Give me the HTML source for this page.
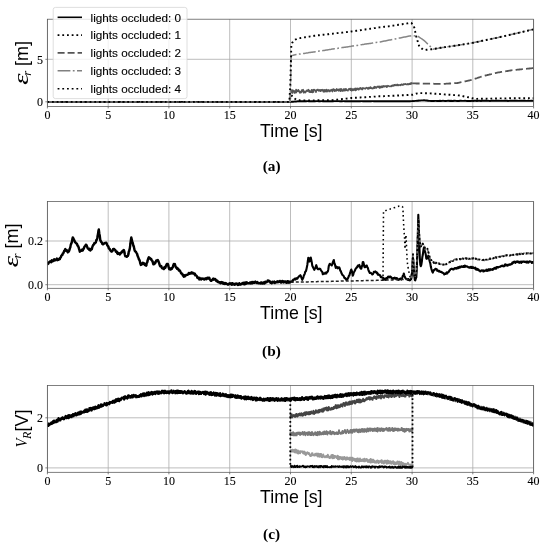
<!DOCTYPE html>
<html><head><meta charset="utf-8"><title>Figure</title>
<style>
html,body{margin:0;padding:0;background:#fff;}
body{width:548px;height:550px;overflow:hidden;}
svg{display:block;}
.g{stroke:#aaa;stroke-width:0.78;}
.sp{fill:none;stroke:#555;stroke-width:0.75;}
.tk{stroke:#555;stroke-width:0.75;}
.tl{font-family:"Liberation Serif",serif;font-size:12px;fill:#000;stroke:#000;stroke-width:0.1;}
.xl{font-family:"Liberation Sans",sans-serif;font-size:17.8px;fill:#000;}
.yl{font-family:"Liberation Sans",sans-serif;font-size:18px;fill:#000;}
.eps{font-family:"Liberation Serif",serif;font-style:italic;font-size:20px;}
.sub{font-family:"Liberation Serif",serif;font-style:italic;font-size:12.6px;}
.vv{font-family:"Liberation Serif",serif;font-style:italic;font-size:16.2px;}
.vr{font-family:"Liberation Serif",serif;font-style:italic;font-size:12px;}
.lg{font-family:"Liberation Sans",sans-serif;font-size:11.7px;fill:#000;stroke:#000;stroke-width:0.12;}
.cap{font-family:"Liberation Serif",serif;font-weight:bold;font-size:15.3px;fill:#000;}
polyline{stroke-linejoin:round;}
</style></head><body>
<svg width="548" height="550" viewBox="0 0 548 550">
<rect width="548" height="550" fill="#fff"/>
<g id="pa">
<line x1="47.4" y1="19.2" x2="47.4" y2="106.4" class="g"/>
<line x1="108.2" y1="19.2" x2="108.2" y2="106.4" class="g"/>
<line x1="168.9" y1="19.2" x2="168.9" y2="106.4" class="g"/>
<line x1="229.7" y1="19.2" x2="229.7" y2="106.4" class="g"/>
<line x1="290.5" y1="19.2" x2="290.5" y2="106.4" class="g"/>
<line x1="351.3" y1="19.2" x2="351.3" y2="106.4" class="g"/>
<line x1="412.1" y1="19.2" x2="412.1" y2="106.4" class="g"/>
<line x1="472.8" y1="19.2" x2="472.8" y2="106.4" class="g"/>
<line x1="533.6" y1="19.2" x2="533.6" y2="106.4" class="g"/>
<line x1="47.4" y1="59.3" x2="533.6" y2="59.3" class="g"/>
<line x1="47.4" y1="101.8" x2="533.6" y2="101.8" class="g"/>
<clipPath id="ca"><rect x="47.4" y="19.2" width="486.2" height="87.2"/></clipPath>
<g clip-path="url(#ca)">
<polyline fill="none" stroke="#000" stroke-width="1.6"  points="47.3,101.8 48.3,102.0 49.3,101.9 50.3,101.9 51.3,102.0 52.3,101.9 53.3,101.9 54.3,101.8 55.3,101.9 56.3,101.9 57.3,101.9 58.3,102.0 59.3,101.9 60.3,101.8 61.3,101.9 62.3,102.0 63.3,101.8 64.3,101.9 65.3,102.0 66.3,101.8 67.3,101.9 68.3,102.0 69.3,101.8 70.3,101.9 71.3,102.0 72.3,101.8 73.3,101.9 74.3,102.0 75.3,101.9 76.3,101.9 77.3,101.8 78.3,101.9 79.3,101.9 80.3,101.9 81.3,101.9 82.3,102.0 83.3,102.0 84.3,101.9 85.3,101.9 86.3,101.9 87.3,101.9 88.3,101.9 89.3,101.9 90.3,101.9 91.3,101.9 92.3,101.9 93.3,101.9 94.3,102.0 95.3,101.8 96.3,101.9 97.3,101.9 98.3,101.9 99.3,101.9 100.3,101.9 101.3,101.9 102.3,101.8 103.3,101.8 104.3,101.9 105.3,101.9 106.3,101.9 107.3,102.0 108.3,101.9 109.3,101.8 110.3,101.9 111.3,101.9 112.3,101.8 113.3,102.0 114.3,102.0 115.3,102.0 116.3,101.9 117.3,102.0 118.3,101.8 119.3,101.9 120.3,101.9 121.3,101.9 122.3,101.9 123.3,101.8 124.3,101.9 125.3,101.9 126.3,101.9 127.3,101.8 128.3,101.9 129.3,101.9 130.3,102.0 131.3,102.0 132.3,101.9 133.3,101.9 134.3,102.0 135.3,102.0 136.3,101.9 137.3,102.0 138.3,102.0 139.3,101.8 140.3,102.0 141.3,101.9 142.3,101.9 143.3,102.0 144.3,101.9 145.3,101.8 146.3,101.9 147.3,101.8 148.3,101.9 149.3,102.0 150.3,101.9 151.3,101.9 152.3,101.9 153.3,102.0 154.3,102.0 155.3,101.8 156.3,101.9 157.3,101.9 158.3,101.8 159.3,101.9 160.3,101.9 161.3,102.0 162.3,102.0 163.3,101.8 164.3,101.8 165.3,101.9 166.3,101.8 167.3,101.8 168.3,101.9 169.3,101.8 170.3,102.0 171.3,102.0 172.3,101.8 173.3,101.9 174.3,102.0 175.3,102.0 176.3,101.9 177.3,101.8 178.3,102.0 179.3,102.0 180.3,101.8 181.3,101.9 182.3,101.9 183.3,102.0 184.3,101.8 185.3,101.9 186.3,102.0 187.3,101.9 188.3,101.8 189.3,101.8 190.3,101.9 191.3,102.0 192.3,101.8 193.3,101.8 194.3,101.9 195.3,101.8 196.3,101.8 197.3,101.8 198.3,101.9 199.3,101.9 200.3,101.9 201.3,101.8 202.3,101.9 203.3,101.9 204.3,102.0 205.3,102.0 206.3,101.8 207.3,101.8 208.3,102.0 209.3,102.0 210.3,101.9 211.3,102.0 212.3,102.0 213.3,101.9 214.3,102.0 215.3,101.8 216.3,101.9 217.3,101.9 218.3,101.8 219.3,102.0 220.3,101.8 221.3,101.9 222.3,101.8 223.3,101.9 224.3,101.9 225.3,101.8 226.3,101.9 227.3,101.9 228.3,101.9 229.3,101.9 230.3,101.8 231.3,101.8 232.3,101.9 233.3,101.9 234.3,101.8 235.3,102.0 236.3,102.0 237.3,101.8 238.3,101.9 239.3,101.8 240.3,101.9 241.3,101.9 242.3,101.9 243.3,102.0 244.3,101.9 245.3,101.9 246.3,101.9 247.3,102.0 248.3,101.8 249.3,101.9 250.3,102.0 251.3,101.9 252.3,101.9 253.3,101.9 254.3,101.9 255.3,101.9 256.3,101.8 257.3,102.0 258.3,102.0 259.3,101.9 260.3,101.9 261.3,101.8 262.3,102.0 263.3,102.0 264.3,101.9 265.3,102.0 266.3,101.8 267.3,101.9 268.3,101.8 269.3,101.9 270.3,101.8 271.3,102.0 272.3,101.9 273.3,101.9 274.3,101.8 275.3,101.9 276.3,102.0 277.3,101.9 278.3,101.8 279.3,102.0 280.3,101.8 281.3,102.0 282.3,101.9 283.3,101.9 284.3,101.9 285.3,101.9 286.3,101.9 287.3,102.0 288.3,101.9 289.3,102.0 290.0,102.0"/>
<polyline fill="none" stroke="#000" stroke-width="1.9"  points="290.0,101.8 291.0,101.9 292.0,101.7 293.0,101.8 294.0,101.6 295.0,101.5 296.0,101.6 297.0,101.3 298.0,101.4 299.0,101.2 300.0,101.1 301.0,101.3 302.0,101.2 303.0,101.3 304.0,101.2 305.0,101.2 306.0,101.3 307.0,101.1 308.0,101.1 309.0,101.3 310.0,101.2 311.0,101.2 312.0,101.3 313.0,101.1 314.0,101.3 315.0,101.2 316.0,101.1 317.0,101.1 318.0,101.1 319.0,101.3 320.0,101.2 321.0,101.1 322.0,101.1 323.0,101.3 324.0,101.1 325.0,101.3 326.0,101.1 327.0,101.3 328.0,101.2 329.0,101.1 330.0,101.3 331.0,101.2 332.0,101.3 333.0,101.2 334.0,101.1 335.0,101.1 336.0,101.1 337.0,101.1 338.0,101.1 339.0,101.1 340.0,101.3 341.0,101.1 342.0,101.2 343.0,101.1 344.0,101.1 345.0,101.3 346.0,101.3 347.0,101.2 348.0,101.1 349.0,101.3 350.0,101.1 351.0,101.2 352.0,101.2 353.0,101.3 354.0,101.3 355.0,101.2 356.0,101.2 357.0,101.3 358.0,101.3 359.0,101.3 360.0,101.3 361.0,101.1 362.0,101.1 363.0,101.2 364.0,101.2 365.0,101.3 366.0,101.1 367.0,101.2 368.0,101.2 369.0,101.3 370.0,101.1 371.0,101.2 372.0,101.1 373.0,101.1 374.0,101.3 375.0,101.1 376.0,101.3 377.0,101.2 378.0,101.1 379.0,101.3 380.0,101.1 381.0,101.3 382.0,101.1 383.0,101.3 384.0,101.1 385.0,101.2 386.0,101.3 387.0,101.2 388.0,101.2 389.0,101.3 390.0,101.1 391.0,101.3 392.0,101.3 393.0,101.1 394.0,101.2 395.0,101.1 396.0,101.3 397.0,101.1 398.0,101.2 399.0,101.3 400.0,101.3 401.0,101.1 402.0,101.3 403.0,101.1 404.0,101.3 405.0,101.2 406.0,101.1 407.0,101.3 408.0,101.3 409.0,101.3 410.0,101.3 411.0,101.1 412.0,101.1 413.0,101.0 414.0,101.1 415.0,100.9 416.0,100.9 417.0,100.8 418.0,100.7 419.0,100.5 420.0,100.6 421.0,100.4 422.0,100.4 423.0,100.4 424.0,100.1 425.0,100.4 426.0,100.5 427.0,100.5 428.0,100.7 429.0,100.9 430.0,100.9 431.0,101.0 432.0,101.0 433.0,100.9 434.0,101.0 435.0,100.9 436.0,100.9 437.0,101.0 438.0,100.9 439.0,101.0 440.0,100.8 441.0,101.0 442.0,100.9 443.0,100.8 444.0,100.9 445.0,101.0 446.0,101.0 447.0,100.9 448.0,100.8 449.0,100.8 450.0,101.0 451.0,100.8 452.0,101.0 453.0,101.0 454.0,100.8 455.0,100.8 456.0,100.9 457.0,101.0 458.0,101.0 459.0,101.0 460.0,100.8 461.0,100.8 462.0,100.9 463.0,100.9 464.0,100.9 465.0,100.7 466.0,100.9 467.0,101.0 468.0,101.0 469.0,101.0 470.0,101.0 471.0,101.0 472.0,100.7 473.0,101.0 474.0,100.8 475.0,100.8 476.0,100.8 477.0,101.0 478.0,100.9 479.0,100.8 480.0,100.8 481.0,101.0 482.0,100.9 483.0,100.7 484.0,100.8 485.0,100.8 486.0,100.8 487.0,100.9 488.0,100.8 489.0,100.9 490.0,101.0 491.0,100.9 492.0,100.7 493.0,100.8 494.0,100.8 495.0,100.9 496.0,100.8 497.0,100.8 498.0,100.8 499.0,100.7 500.0,100.9 501.0,100.9 502.0,100.8 503.0,100.9 504.0,100.8 505.0,100.8 506.0,100.8 507.0,100.8 508.0,101.0 509.0,100.9 510.0,100.9 511.0,100.7 512.0,100.8 513.0,100.8 514.0,100.7 515.0,100.8 516.0,100.7 517.0,100.7 518.0,100.9 519.0,100.9 520.0,100.9 521.0,100.7 522.0,100.7 523.0,100.7 524.0,100.7 525.0,100.7 526.0,100.9 527.0,100.9 528.0,100.7 529.0,100.7 530.0,100.9 531.0,100.8 532.0,100.8 533.0,100.8 534.0,100.7 534.1,100.8"/>
<polyline fill="none" stroke="#000" stroke-width="1.9" stroke-dasharray="1.8 2.9"  points="47.3,101.9 48.3,101.9 49.3,101.9 50.3,101.9 51.3,101.9 52.3,101.9 53.3,101.9 54.3,101.9 55.3,101.9 56.3,101.9 57.3,101.9 58.3,101.9 59.3,101.9 60.3,101.9 61.3,101.9 62.3,101.9 63.3,101.9 64.3,101.9 65.3,101.9 66.3,101.9 67.3,101.9 68.3,101.9 69.3,101.9 70.3,101.9 71.3,101.9 72.3,101.9 73.3,101.9 74.3,101.9 75.3,101.9 76.3,101.9 77.3,101.9 78.3,101.9 79.3,101.9 80.3,101.9 81.3,101.9 82.3,101.9 83.3,101.9 84.3,101.9 85.3,101.9 86.3,101.9 87.3,101.9 88.3,101.9 89.3,101.9 90.3,101.9 91.3,101.9 92.3,101.9 93.3,101.9 94.3,101.9 95.3,101.9 96.3,101.9 97.3,101.9 98.3,101.9 99.3,101.9 100.3,101.9 101.3,101.9 102.3,101.9 103.3,101.9 104.3,101.9 105.3,101.9 106.3,101.9 107.3,101.9 108.3,101.9 109.3,101.9 110.3,101.9 111.3,101.9 112.3,101.9 113.3,101.9 114.3,101.9 115.3,101.9 116.3,101.9 117.3,101.9 118.3,101.9 119.3,101.9 120.3,101.9 121.3,101.9 122.3,101.9 123.3,101.9 124.3,101.9 125.3,101.9 126.3,101.9 127.3,101.9 128.3,101.9 129.3,101.9 130.3,101.9 131.3,101.9 132.3,101.9 133.3,101.9 134.3,101.9 135.3,101.9 136.3,101.9 137.3,101.9 138.3,101.9 139.3,101.9 140.3,101.9 141.3,101.9 142.3,101.9 143.3,101.9 144.3,101.9 145.3,101.9 146.3,101.9 147.3,101.9 148.3,101.9 149.3,101.9 150.3,101.9 151.3,101.9 152.3,101.9 153.3,101.9 154.3,101.9 155.3,101.9 156.3,101.9 157.3,101.9 158.3,101.9 159.3,101.9 160.3,101.9 161.3,101.9 162.3,101.9 163.3,101.9 164.3,101.9 165.3,101.9 166.3,101.9 167.3,101.9 168.3,101.9 169.3,101.9 170.3,101.9 171.3,101.9 172.3,101.9 173.3,101.9 174.3,101.9 175.3,101.9 176.3,101.9 177.3,101.9 178.3,101.9 179.3,101.9 180.3,101.9 181.3,101.9 182.3,101.9 183.3,101.9 184.3,101.9 185.3,101.9 186.3,101.9 187.3,101.9 188.3,101.9 189.3,101.9 190.3,101.9 191.3,101.9 192.3,101.9 193.3,101.9 194.3,101.9 195.3,101.9 196.3,101.9 197.3,101.9 198.3,101.9 199.3,101.9 200.3,101.9 201.3,101.9 202.3,101.9 203.3,101.9 204.3,101.9 205.3,101.9 206.3,101.9 207.3,101.9 208.3,101.9 209.3,101.9 210.3,101.9 211.3,101.9 212.3,101.9 213.3,101.9 214.3,101.9 215.3,101.9 216.3,101.9 217.3,101.9 218.3,101.9 219.3,101.9 220.3,101.9 221.3,101.9 222.3,101.9 223.3,101.9 224.3,101.9 225.3,101.9 226.3,101.9 227.3,101.9 228.3,101.9 229.3,101.9 230.3,101.9 231.3,101.9 232.3,101.9 233.3,101.9 234.3,101.9 235.3,101.9 236.3,101.9 237.3,101.9 238.3,101.9 239.3,101.9 240.3,101.9 241.3,101.9 242.3,101.9 243.3,101.9 244.3,101.9 245.3,101.9 246.3,101.9 247.3,101.9 248.3,101.9 249.3,101.9 250.3,101.9 251.3,101.9 252.3,101.9 253.3,101.9 254.3,101.9 255.3,101.9 256.3,101.9 257.3,101.9 258.3,101.9 259.3,101.9 260.3,101.9 261.3,101.9 262.3,101.9 263.3,101.9 264.3,101.9 265.3,101.9 266.3,101.9 267.3,101.9 268.3,101.9 269.3,101.9 270.3,101.9 271.3,101.9 272.3,101.9 273.3,101.9 274.3,101.9 275.3,101.9 276.3,101.9 277.3,101.9 278.3,101.9 279.3,101.9 280.3,101.9 281.3,101.9 282.3,101.9 283.3,101.9 284.3,101.9 285.3,101.9 286.3,101.9 287.3,101.9 288.3,101.9 289.3,101.9 290.3,97.9 291.3,95.1 292.3,96.3 293.3,97.2 294.3,98.1 295.3,99.0 296.3,99.8 297.3,100.1 298.3,100.2 299.3,100.3 300.3,100.4 301.3,100.4 302.3,100.4 303.3,100.4 304.3,100.4 305.3,100.4 306.3,100.4 307.3,100.4 308.3,100.4 309.3,100.4 310.3,100.4 311.3,100.4 312.3,100.4 313.3,100.4 314.3,100.4 315.3,100.3 316.3,100.3 317.3,100.3 318.3,100.3 319.3,100.3 320.3,100.3 321.3,100.3 322.3,100.3 323.3,100.3 324.3,100.3 325.3,100.3 326.3,100.3 327.3,100.3 328.3,100.3 329.3,100.3 330.3,100.3 331.3,100.2 332.3,100.1 333.3,100.0 334.3,99.9 335.3,99.8 336.3,99.7 337.3,99.6 338.3,99.5 339.3,99.4 340.3,99.3 341.3,99.2 342.3,99.0 343.3,98.9 344.3,98.8 345.3,98.7 346.3,98.6 347.3,98.5 348.3,98.4 349.3,98.3 350.3,98.2 351.3,98.0 352.3,98.0 353.3,97.9 354.3,97.8 355.3,97.8 356.3,97.7 357.3,97.7 358.3,97.6 359.3,97.5 360.3,97.5 361.3,97.4 362.3,97.4 363.3,97.3 364.3,97.2 365.3,97.2 366.3,97.1 367.3,97.1 368.3,97.0 369.3,96.9 370.3,96.9 371.3,96.8 372.3,96.8 373.3,96.7 374.3,96.6 375.3,96.6 376.3,96.5 377.3,96.5 378.3,96.4 379.3,96.3 380.3,96.3 381.3,96.2 382.3,96.2 383.3,96.2 384.3,96.1 385.3,96.1 386.3,96.0 387.3,96.0 388.3,95.9 389.3,95.9 390.3,95.8 391.3,95.8 392.3,95.7 393.3,95.7 394.3,95.7 395.3,95.6 396.3,95.6 397.3,95.5 398.3,95.5 399.3,95.4 400.3,95.4 401.3,95.3 402.3,95.3 403.3,95.2 404.3,95.2 405.3,95.1 406.3,95.1 407.3,95.0 408.3,95.0 409.3,94.9 410.3,94.9 411.3,94.8 412.3,94.8 413.3,94.5 414.3,94.2 415.3,93.9 416.3,93.6 417.3,93.3 418.3,93.0 419.3,93.0 420.3,93.1 421.3,93.1 422.3,93.1 423.3,93.2 424.3,93.2 425.3,93.2 426.3,93.3 427.3,93.3 428.3,93.3 429.3,93.4 430.3,93.4 431.3,93.5 432.3,93.6 433.3,93.6 434.3,93.7 435.3,93.8 436.3,93.8 437.3,93.9 438.3,94.0 439.3,94.0 440.3,94.1 441.3,94.2 442.3,94.3 443.3,94.3 444.3,94.4 445.3,94.5 446.3,94.5 447.3,94.6 448.3,94.7 449.3,94.7 450.3,94.8 451.3,94.9 452.3,94.9 453.3,95.0 454.3,95.1 455.3,95.2 456.3,95.2 457.3,95.3 458.3,95.4 459.3,95.5 460.3,95.7 461.3,95.9 462.3,96.1 463.3,96.3 464.3,96.5 465.3,96.7 466.3,96.9 467.3,97.1 468.3,97.3 469.3,97.5 470.3,97.7 471.3,98.0 472.3,98.2 473.3,98.4 474.3,98.6 475.3,98.9 476.3,98.9 477.3,98.9 478.3,98.8 479.3,98.8 480.3,98.8 481.3,98.8 482.3,98.7 483.3,98.7 484.3,98.7 485.3,98.7 486.3,98.7 487.3,98.6 488.3,98.6 489.3,98.6 490.3,98.6 491.3,98.6 492.3,98.5 493.3,98.5 494.3,98.5 495.3,98.5 496.3,98.5 497.3,98.5 498.3,98.5 499.3,98.4 500.3,98.4 501.3,98.4 502.3,98.4 503.3,98.4 504.3,98.4 505.3,98.4 506.3,98.4 507.3,98.4 508.3,98.4 509.3,98.3 510.3,98.3 511.3,98.3 512.3,98.3 513.3,98.3 514.3,98.3 515.3,98.3 516.3,98.3 517.3,98.3 518.3,98.3 519.3,98.2 520.3,98.2 521.3,98.2 522.3,98.2 523.3,98.2 524.3,98.2 525.3,98.2 526.3,98.2 527.3,98.2 528.3,98.2 529.3,98.1 530.3,98.1 531.3,98.1 532.3,98.1 533.3,98.1 534.1,98.1"/>
<polyline fill="none" stroke="#444" stroke-width="1.2" stroke-dasharray="7.3 3.2"  points="47.3,101.9 48.3,101.9 49.3,101.9 50.3,101.9 51.3,101.9 52.3,101.9 53.3,101.9 54.3,101.9 55.3,101.9 56.3,101.9 57.3,101.9 58.3,101.9 59.3,101.9 60.3,101.9 61.3,101.9 62.3,101.9 63.3,101.9 64.3,101.9 65.3,101.9 66.3,101.9 67.3,101.9 68.3,101.9 69.3,101.9 70.3,101.9 71.3,101.9 72.3,101.9 73.3,101.9 74.3,101.9 75.3,101.9 76.3,101.9 77.3,101.9 78.3,101.9 79.3,101.9 80.3,101.9 81.3,101.9 82.3,101.9 83.3,101.9 84.3,101.9 85.3,101.9 86.3,101.9 87.3,101.9 88.3,101.9 89.3,101.9 90.3,101.9 91.3,101.9 92.3,101.9 93.3,101.9 94.3,101.9 95.3,101.9 96.3,101.9 97.3,101.9 98.3,101.9 99.3,101.9 100.3,101.9 101.3,101.9 102.3,101.9 103.3,101.9 104.3,101.9 105.3,101.9 106.3,101.9 107.3,101.9 108.3,101.9 109.3,101.9 110.3,101.9 111.3,101.9 112.3,101.9 113.3,101.9 114.3,101.9 115.3,101.9 116.3,101.9 117.3,101.9 118.3,101.9 119.3,101.9 120.3,101.9 121.3,101.9 122.3,101.9 123.3,101.9 124.3,101.9 125.3,101.9 126.3,101.9 127.3,101.9 128.3,101.9 129.3,101.9 130.3,101.9 131.3,101.9 132.3,101.9 133.3,101.9 134.3,101.9 135.3,101.9 136.3,101.9 137.3,101.9 138.3,101.9 139.3,101.9 140.3,101.9 141.3,101.9 142.3,101.9 143.3,101.9 144.3,101.9 145.3,101.9 146.3,101.9 147.3,101.9 148.3,101.9 149.3,101.9 150.3,101.9 151.3,101.9 152.3,101.9 153.3,101.9 154.3,101.9 155.3,101.9 156.3,101.9 157.3,101.9 158.3,101.9 159.3,101.9 160.3,101.9 161.3,101.9 162.3,101.9 163.3,101.9 164.3,101.9 165.3,101.9 166.3,101.9 167.3,101.9 168.3,101.9 169.3,101.9 170.3,101.9 171.3,101.9 172.3,101.9 173.3,101.9 174.3,101.9 175.3,101.9 176.3,101.9 177.3,101.9 178.3,101.9 179.3,101.9 180.3,101.9 181.3,101.9 182.3,101.9 183.3,101.9 184.3,101.9 185.3,101.9 186.3,101.9 187.3,101.9 188.3,101.9 189.3,101.9 190.3,101.9 191.3,101.9 192.3,101.9 193.3,101.9 194.3,101.9 195.3,101.9 196.3,101.9 197.3,101.9 198.3,101.9 199.3,101.9 200.3,101.9 201.3,101.9 202.3,101.9 203.3,101.9 204.3,101.9 205.3,101.9 206.3,101.9 207.3,101.9 208.3,101.9 209.3,101.9 210.3,101.9 211.3,101.9 212.3,101.9 213.3,101.9 214.3,101.9 215.3,101.9 216.3,101.9 217.3,101.9 218.3,101.9 219.3,101.9 220.3,101.9 221.3,101.9 222.3,101.9 223.3,101.9 224.3,101.9 225.3,101.9 226.3,101.9 227.3,101.9 228.3,101.9 229.3,101.9 230.3,101.9 231.3,101.9 232.3,101.9 233.3,101.9 234.3,101.9 235.3,101.9 236.3,101.9 237.3,101.9 238.3,101.9 239.3,101.9 240.3,101.9 241.3,101.9 242.3,101.9 243.3,101.9 244.3,101.9 245.3,101.9 246.3,101.9 247.3,101.9 248.3,101.9 249.3,101.9 250.3,101.9 251.3,101.9 252.3,101.9 253.3,101.9 254.3,101.9 255.3,101.9 256.3,101.9 257.3,101.9 258.3,101.9 259.3,101.9 260.3,101.9 261.3,101.9 262.3,101.9 263.3,101.9 264.3,101.9 265.3,101.9 266.3,101.9 267.3,101.9 268.3,101.9 269.3,101.9 270.3,101.9 271.3,101.9 272.3,101.9 273.3,101.9 274.3,101.9 275.3,101.9 276.3,101.9 277.3,101.9 278.3,101.9 279.3,101.9 280.3,101.9 281.3,101.9 282.3,101.9 283.3,101.9 284.3,101.9 285.3,101.9 286.3,101.9 287.3,101.9 288.3,101.9 289.3,101.9 290.2,101.9"/>
<polyline fill="none" stroke="#555" stroke-width="1.6" stroke-dasharray="7.3 3.2"  points="290.2,101.9 290.4,91.4"/>
<polyline fill="none" stroke="#555" stroke-width="1.5"  points="290.4,92.2 290.8,91.4 291.2,92.5 291.6,90.0 292.0,91.7 292.4,93.1 292.8,90.1 293.2,91.3 293.6,91.8 294.0,90.8 294.4,93.0 294.8,91.3 295.2,91.3 295.6,92.7 296.0,89.6 296.4,92.6 296.8,90.0 297.2,90.9 297.6,91.2 298.0,91.2 298.4,89.7 298.8,90.6 299.2,90.8 299.6,92.8 300.0,92.7 300.4,91.5 300.8,92.7 301.2,92.5 301.6,90.8 302.0,89.9 302.4,91.6 302.8,90.6 303.2,89.6 303.6,92.8 304.0,92.8 304.4,91.3 304.8,91.6 305.2,91.7 305.6,92.6 306.0,91.1 306.4,91.4 306.8,90.2 307.2,90.3 307.6,91.2 308.0,90.2 308.4,89.6 308.8,90.7 309.2,91.9 309.6,90.4 310.0,92.3 310.4,91.7 310.8,91.6 311.2,92.3 311.6,89.7 312.0,90.0 312.4,92.4 312.8,92.4 313.2,89.7 313.6,91.9 314.0,89.5 314.4,89.9 314.8,89.8 315.2,90.4 315.6,90.7 316.0,92.3 316.4,90.8 316.8,89.8 317.2,90.3 317.6,89.4 318.0,89.5 318.4,90.7 318.8,91.0 319.2,90.1 319.6,90.5 320.0,89.7 320.4,91.3 320.8,90.5 321.2,89.8 321.6,90.8 322.0,89.9 322.4,90.2 322.8,89.6 323.2,91.6 323.6,90.1 324.0,92.1 324.4,90.4 324.8,89.7 325.2,91.3 325.6,91.4 326.0,91.8 326.4,89.5 326.8,91.5 327.2,91.7 327.6,90.0 328.0,90.4 328.4,90.9 328.8,89.8 329.2,91.6 329.6,91.1 330.0,91.5 330.4,90.3 330.8,90.5 331.2,89.6 331.6,89.9 332.0,91.1 332.4,91.7 332.8,89.4 333.2,89.1 333.6,89.1 334.0,90.2 334.4,91.2 334.8,89.6 335.2,90.2 335.6,90.3 336.0,91.2 336.4,89.3 336.8,88.9 337.2,90.3 337.6,89.8 338.0,89.6 338.4,90.9 338.8,90.7 339.2,89.0 339.6,90.3 340.0,90.9 340.4,91.2 340.8,88.8 341.2,90.9 341.6,88.9 342.0,90.5 342.4,90.3 342.8,91.2 343.2,90.4 343.6,88.9 344.0,90.4 344.4,89.3 344.8,90.8 345.2,88.7 345.6,89.5 346.0,90.4 346.4,89.0 346.8,90.3 347.2,90.4 347.6,90.5 348.0,90.8 348.4,89.6 348.8,88.9 349.2,89.2 349.6,89.5 350.0,88.6 350.4,90.3 350.8,88.6 351.2,88.6 351.6,90.8 352.0,90.4 352.4,89.0 352.8,89.2 353.2,90.4 353.6,89.8 354.0,88.9 354.4,89.3 354.8,90.3 355.2,88.2 355.6,90.5 356.0,89.4 356.4,88.5 356.8,89.9 357.2,88.2 357.6,88.9 358.0,89.3 358.4,88.5 358.8,89.9 359.2,89.4 359.6,88.2 360.0,88.1 360.4,87.8 360.8,89.0 361.2,88.1 361.6,88.9 362.0,89.5 362.4,89.6 362.8,87.8 363.2,88.2 363.6,88.4 364.0,88.3 364.4,88.3 364.8,88.4 365.2,89.0 365.6,87.9 366.0,88.0 366.4,88.1 366.8,87.5 367.2,88.5 367.6,88.0 368.0,89.1 368.4,88.8 368.8,87.5 369.2,87.5 369.6,88.6 370.0,88.1 370.4,86.9 370.8,88.2 371.2,87.6 371.6,88.4 372.0,88.3 372.4,88.6 372.8,88.1 373.2,88.5 373.6,87.2 374.0,87.2 374.4,86.6 374.8,88.3 375.2,86.7 375.6,87.5 376.0,87.4 376.4,88.0 376.8,87.1 377.2,86.5 377.6,87.0 378.0,86.3 378.4,86.8 378.8,87.4 379.2,86.2 379.6,88.0 380.0,87.1 380.4,86.6 380.8,87.6 381.2,86.2 381.6,86.5 382.0,87.6 382.4,86.2 382.8,87.1 383.2,85.8 383.6,86.7 384.0,86.9 384.4,86.0 384.8,86.2 385.2,86.5 385.6,86.6 386.0,85.7 386.4,86.1 386.8,87.2 387.2,85.9 387.6,86.7 388.0,85.6 388.4,86.0 388.8,86.1 389.2,86.2 389.6,86.4 390.0,86.5 390.4,86.2 390.8,86.4 391.2,86.5 391.6,85.4 392.0,86.3 392.4,85.7 392.8,85.2 393.2,85.0 393.6,86.0 394.0,85.7 394.4,84.7 394.8,85.5 395.2,84.6 395.6,85.1 396.0,85.4 396.4,85.5 396.8,84.6 397.2,84.4 397.6,85.2 398.0,85.6 398.4,85.5 398.8,84.7 399.2,85.0 399.6,85.2 400.0,85.4 400.4,84.8 400.8,85.4 401.2,84.4 401.6,84.2 402.0,84.3 402.4,84.9 402.8,85.1 403.2,84.4 403.6,84.7 404.0,83.8 404.4,84.4 404.8,84.2 405.2,84.2 405.6,83.8 406.0,84.4 406.4,84.4 406.8,84.3 407.2,84.4 407.6,83.9 408.0,84.5 408.4,84.0 408.8,84.4 409.2,83.7 409.6,84.1 410.0,83.3 410.4,83.1 410.8,84.3 411.2,83.4 411.6,82.9 412.0,83.7 412.3,84.1"/>
<polyline fill="none" stroke="#555" stroke-width="1.8" stroke-dasharray="7.3 3.2"  points="412.3,83.4 413.3,83.4 414.3,83.4 415.3,83.4 416.3,83.5 417.3,83.5 418.3,83.5 419.3,83.5 420.3,83.5 421.3,83.5 422.3,83.6 423.3,83.6 424.3,83.6 425.3,83.6 426.3,83.6 427.3,83.6 428.3,83.7 429.3,83.7 430.3,83.7 431.3,83.7 432.3,83.7 433.3,83.7 434.3,83.8 435.3,83.8 436.3,83.8 437.3,83.8 438.3,83.8 439.3,83.8 440.3,83.9 441.3,83.9 442.3,83.9 443.3,83.9 444.3,83.8 445.3,83.8 446.3,83.7 447.3,83.6 448.3,83.6 449.3,83.5 450.3,83.5 451.3,83.4 452.3,83.3 453.3,83.3 454.3,83.2 455.3,83.1 456.3,83.1 457.3,83.0 458.3,82.8 459.3,82.6 460.3,82.4 461.3,82.2 462.3,82.0 463.3,81.8 464.3,81.5 465.3,81.3 466.3,81.1 467.3,80.9 468.3,80.7 469.3,80.5 470.3,80.2 471.3,79.9 472.3,79.5 473.3,79.2 474.3,78.9 475.3,78.6 476.3,78.3 477.3,78.0 478.3,77.6 479.3,77.3 480.3,77.0 481.3,76.7 482.3,76.4 483.3,76.1 484.3,75.8 485.3,75.5 486.3,75.3 487.3,75.0 488.3,74.8 489.3,74.5 490.3,74.3 491.3,74.1 492.3,73.8 493.3,73.6 494.3,73.3 495.3,73.1 496.3,72.8 497.3,72.6 498.3,72.4 499.3,72.3 500.3,72.1 501.3,71.9 502.3,71.8 503.3,71.6 504.3,71.4 505.3,71.3 506.3,71.1 507.3,71.0 508.3,70.8 509.3,70.6 510.3,70.5 511.3,70.3 512.3,70.2 513.3,70.1 514.3,70.0 515.3,69.9 516.3,69.8 517.3,69.7 518.3,69.6 519.3,69.5 520.3,69.4 521.3,69.3 522.3,69.2 523.3,69.1 524.3,69.0 525.3,68.9 526.3,68.8 527.3,68.7 528.3,68.6 529.3,68.5 530.3,68.4 531.3,68.3 532.3,68.2 533.3,68.1 534.1,68.0"/>
<polyline fill="none" stroke="#777" stroke-width="1.1" stroke-dasharray="12.8 2.4 1.8 2.4"  points="47.3,101.9 48.3,101.9 49.3,101.9 50.3,101.9 51.3,101.9 52.3,101.9 53.3,101.9 54.3,101.9 55.3,101.9 56.3,101.9 57.3,101.9 58.3,101.9 59.3,101.9 60.3,101.9 61.3,101.9 62.3,101.9 63.3,101.9 64.3,101.9 65.3,101.9 66.3,101.9 67.3,101.9 68.3,101.9 69.3,101.9 70.3,101.9 71.3,101.9 72.3,101.9 73.3,101.9 74.3,101.9 75.3,101.9 76.3,101.9 77.3,101.9 78.3,101.9 79.3,101.9 80.3,101.9 81.3,101.9 82.3,101.9 83.3,101.9 84.3,101.9 85.3,101.9 86.3,101.9 87.3,101.9 88.3,101.9 89.3,101.9 90.3,101.9 91.3,101.9 92.3,101.9 93.3,101.9 94.3,101.9 95.3,101.9 96.3,101.9 97.3,101.9 98.3,101.9 99.3,101.9 100.3,101.9 101.3,101.9 102.3,101.9 103.3,101.9 104.3,101.9 105.3,101.9 106.3,101.9 107.3,101.9 108.3,101.9 109.3,101.9 110.3,101.9 111.3,101.9 112.3,101.9 113.3,101.9 114.3,101.9 115.3,101.9 116.3,101.9 117.3,101.9 118.3,101.9 119.3,101.9 120.3,101.9 121.3,101.9 122.3,101.9 123.3,101.9 124.3,101.9 125.3,101.9 126.3,101.9 127.3,101.9 128.3,101.9 129.3,101.9 130.3,101.9 131.3,101.9 132.3,101.9 133.3,101.9 134.3,101.9 135.3,101.9 136.3,101.9 137.3,101.9 138.3,101.9 139.3,101.9 140.3,101.9 141.3,101.9 142.3,101.9 143.3,101.9 144.3,101.9 145.3,101.9 146.3,101.9 147.3,101.9 148.3,101.9 149.3,101.9 150.3,101.9 151.3,101.9 152.3,101.9 153.3,101.9 154.3,101.9 155.3,101.9 156.3,101.9 157.3,101.9 158.3,101.9 159.3,101.9 160.3,101.9 161.3,101.9 162.3,101.9 163.3,101.9 164.3,101.9 165.3,101.9 166.3,101.9 167.3,101.9 168.3,101.9 169.3,101.9 170.3,101.9 171.3,101.9 172.3,101.9 173.3,101.9 174.3,101.9 175.3,101.9 176.3,101.9 177.3,101.9 178.3,101.9 179.3,101.9 180.3,101.9 181.3,101.9 182.3,101.9 183.3,101.9 184.3,101.9 185.3,101.9 186.3,101.9 187.3,101.9 188.3,101.9 189.3,101.9 190.3,101.9 191.3,101.9 192.3,101.9 193.3,101.9 194.3,101.9 195.3,101.9 196.3,101.9 197.3,101.9 198.3,101.9 199.3,101.9 200.3,101.9 201.3,101.9 202.3,101.9 203.3,101.9 204.3,101.9 205.3,101.9 206.3,101.9 207.3,101.9 208.3,101.9 209.3,101.9 210.3,101.9 211.3,101.9 212.3,101.9 213.3,101.9 214.3,101.9 215.3,101.9 216.3,101.9 217.3,101.9 218.3,101.9 219.3,101.9 220.3,101.9 221.3,101.9 222.3,101.9 223.3,101.9 224.3,101.9 225.3,101.9 226.3,101.9 227.3,101.9 228.3,101.9 229.3,101.9 230.3,101.9 231.3,101.9 232.3,101.9 233.3,101.9 234.3,101.9 235.3,101.9 236.3,101.9 237.3,101.9 238.3,101.9 239.3,101.9 240.3,101.9 241.3,101.9 242.3,101.9 243.3,101.9 244.3,101.9 245.3,101.9 246.3,101.9 247.3,101.9 248.3,101.9 249.3,101.9 250.3,101.9 251.3,101.9 252.3,101.9 253.3,101.9 254.3,101.9 255.3,101.9 256.3,101.9 257.3,101.9 258.3,101.9 259.3,101.9 260.3,101.9 261.3,101.9 262.3,101.9 263.3,101.9 264.3,101.9 265.3,101.9 266.3,101.9 267.3,101.9 268.3,101.9 269.3,101.9 270.3,101.9 271.3,101.9 272.3,101.9 273.3,101.9 274.3,101.9 275.3,101.9 276.3,101.9 277.3,101.9 278.3,101.9 279.3,101.9 280.3,101.9 281.3,101.9 282.3,101.9 283.3,101.9 284.3,101.9 285.3,101.9 286.3,101.9 287.3,101.9 288.3,101.9 289.3,101.9 290.2,101.9"/>
<polyline fill="none" stroke="#858585" stroke-width="1.5" stroke-dasharray="12.8 2.4 1.8 2.4"  points="290.2,101.9 291.2,55.8 292.2,55.5 293.2,55.3 294.2,55.0 295.2,54.8 296.2,54.6 297.2,54.4 298.2,54.3 299.2,54.1 300.2,54.0 301.2,53.8 302.2,53.7 303.2,53.5 304.2,53.4 305.2,53.2 306.2,53.1 307.2,52.9 308.2,52.8 309.2,52.6 310.2,52.5 311.2,52.3 312.2,52.2 313.2,52.0 314.2,51.9 315.2,51.7 316.2,51.6 317.2,51.4 318.2,51.3 319.2,51.1 320.2,51.0 321.2,50.8 322.2,50.7 323.2,50.5 324.2,50.4 325.2,50.2 326.2,50.0 327.2,49.9 328.2,49.7 329.2,49.6 330.2,49.4 331.2,49.3 332.2,49.1 333.2,49.0 334.2,48.8 335.2,48.7 336.2,48.5 337.2,48.4 338.2,48.2 339.2,48.1 340.2,47.9 341.2,47.8 342.2,47.6 343.2,47.5 344.2,47.3 345.2,47.2 346.2,47.0 347.2,46.9 348.2,46.7 349.2,46.6 350.2,46.4 351.2,46.3 352.2,46.1 353.2,46.0 354.2,45.8 355.2,45.7 356.2,45.5 357.2,45.4 358.2,45.2 359.2,45.1 360.2,44.9 361.2,44.7 362.2,44.6 363.2,44.4 364.2,44.3 365.2,44.1 366.2,44.0 367.2,43.8 368.2,43.7 369.2,43.5 370.2,43.4 371.2,43.2 372.2,43.1 373.2,42.9 374.2,42.8 375.2,42.6 376.2,42.5 377.2,42.3 378.2,42.2 379.2,42.0 380.2,41.9 381.2,41.7 382.2,41.5 383.2,41.3 384.2,41.1 385.2,40.9 386.2,40.7 387.2,40.5 388.2,40.3 389.2,40.1 390.2,39.9 391.2,39.7 392.2,39.5 393.2,39.3 394.2,39.1 395.2,38.9 396.2,38.7 397.2,38.5 398.2,38.3 399.2,38.1 400.2,37.9 401.2,37.7 402.2,37.5 403.2,37.3 404.2,37.1 405.2,36.9 406.2,36.7 407.2,36.5 408.2,36.3 409.2,36.1 410.2,35.9 411.2,35.7 412.2,35.5 413.2,35.6 414.2,35.8 415.2,36.0 416.2,36.1 417.2,36.3 418.2,36.5 419.2,37.1 420.2,37.8 421.2,38.5 422.2,39.2 423.2,39.9 424.2,40.6 425.2,41.5 426.2,42.5 427.2,43.5 428.2,44.5 429.2,45.4 430.2,46.4 431.2,47.4 432.2,48.4 433.2,49.2 434.2,49.0 435.2,48.8 436.2,48.6 437.2,48.4 438.2,48.3 439.2,48.1 440.2,47.9 441.2,47.7 442.2,47.5 443.2,47.4 444.2,47.2 445.2,47.1 446.2,47.0 447.2,46.8 448.2,46.7 449.2,46.5 450.2,46.4 451.2,46.2 452.2,46.1 453.2,46.0 454.2,45.8 455.2,45.7 456.2,45.5 457.2,45.4 458.2,45.2 459.2,45.0 460.2,44.9 461.2,44.7 462.2,44.6 463.2,44.4 464.2,44.2 465.2,44.1 466.2,43.9 467.2,43.7 468.2,43.6 469.2,43.4 470.2,43.3 471.2,43.1 472.2,42.9 473.2,42.8 474.2,42.5 475.2,42.3 476.2,42.1 477.2,41.9 478.2,41.7 479.2,41.5 480.2,41.3 481.2,41.1 482.2,40.8 483.2,40.6 484.2,40.4 485.2,40.2 486.2,40.0 487.2,39.8 488.2,39.6 489.2,39.4 490.2,39.2 491.2,38.9 492.2,38.7 493.2,38.5 494.2,38.3 495.2,38.1 496.2,37.9 497.2,37.7 498.2,37.5 499.2,37.2 500.2,37.0 501.2,36.8 502.2,36.6 503.2,36.4 504.2,36.2 505.2,35.9 506.2,35.7 507.2,35.5 508.2,35.2 509.2,35.0 510.2,34.8 511.2,34.5 512.2,34.3 513.2,34.1 514.2,33.8 515.2,33.6 516.2,33.4 517.2,33.1 518.2,32.9 519.2,32.7 520.2,32.4 521.2,32.2 522.2,32.0 523.2,31.7 524.2,31.5 525.2,31.3 526.2,31.0 527.2,30.8 528.2,30.6 529.2,30.3 530.2,30.1 531.2,29.9 532.2,29.6 533.2,29.4 534.1,29.2"/>
<polyline fill="none" stroke="#000" stroke-width="1.9" stroke-dasharray="1.8 2.9"  points="47.3,101.9 48.3,101.9 49.3,101.9 50.3,101.9 51.3,101.9 52.3,101.9 53.3,101.9 54.3,101.9 55.3,101.9 56.3,101.9 57.3,101.9 58.3,101.9 59.3,101.9 60.3,101.9 61.3,101.9 62.3,101.9 63.3,101.9 64.3,101.9 65.3,101.9 66.3,101.9 67.3,101.9 68.3,101.9 69.3,101.9 70.3,101.9 71.3,101.9 72.3,101.9 73.3,101.9 74.3,101.9 75.3,101.9 76.3,101.9 77.3,101.9 78.3,101.9 79.3,101.9 80.3,101.9 81.3,101.9 82.3,101.9 83.3,101.9 84.3,101.9 85.3,101.9 86.3,101.9 87.3,101.9 88.3,101.9 89.3,101.9 90.3,101.9 91.3,101.9 92.3,101.9 93.3,101.9 94.3,101.9 95.3,101.9 96.3,101.9 97.3,101.9 98.3,101.9 99.3,101.9 100.3,101.9 101.3,101.9 102.3,101.9 103.3,101.9 104.3,101.9 105.3,101.9 106.3,101.9 107.3,101.9 108.3,101.9 109.3,101.9 110.3,101.9 111.3,101.9 112.3,101.9 113.3,101.9 114.3,101.9 115.3,101.9 116.3,101.9 117.3,101.9 118.3,101.9 119.3,101.9 120.3,101.9 121.3,101.9 122.3,101.9 123.3,101.9 124.3,101.9 125.3,101.9 126.3,101.9 127.3,101.9 128.3,101.9 129.3,101.9 130.3,101.9 131.3,101.9 132.3,101.9 133.3,101.9 134.3,101.9 135.3,101.9 136.3,101.9 137.3,101.9 138.3,101.9 139.3,101.9 140.3,101.9 141.3,101.9 142.3,101.9 143.3,101.9 144.3,101.9 145.3,101.9 146.3,101.9 147.3,101.9 148.3,101.9 149.3,101.9 150.3,101.9 151.3,101.9 152.3,101.9 153.3,101.9 154.3,101.9 155.3,101.9 156.3,101.9 157.3,101.9 158.3,101.9 159.3,101.9 160.3,101.9 161.3,101.9 162.3,101.9 163.3,101.9 164.3,101.9 165.3,101.9 166.3,101.9 167.3,101.9 168.3,101.9 169.3,101.9 170.3,101.9 171.3,101.9 172.3,101.9 173.3,101.9 174.3,101.9 175.3,101.9 176.3,101.9 177.3,101.9 178.3,101.9 179.3,101.9 180.3,101.9 181.3,101.9 182.3,101.9 183.3,101.9 184.3,101.9 185.3,101.9 186.3,101.9 187.3,101.9 188.3,101.9 189.3,101.9 190.3,101.9 191.3,101.9 192.3,101.9 193.3,101.9 194.3,101.9 195.3,101.9 196.3,101.9 197.3,101.9 198.3,101.9 199.3,101.9 200.3,101.9 201.3,101.9 202.3,101.9 203.3,101.9 204.3,101.9 205.3,101.9 206.3,101.9 207.3,101.9 208.3,101.9 209.3,101.9 210.3,101.9 211.3,101.9 212.3,101.9 213.3,101.9 214.3,101.9 215.3,101.9 216.3,101.9 217.3,101.9 218.3,101.9 219.3,101.9 220.3,101.9 221.3,101.9 222.3,101.9 223.3,101.9 224.3,101.9 225.3,101.9 226.3,101.9 227.3,101.9 228.3,101.9 229.3,101.9 230.3,101.9 231.3,101.9 232.3,101.9 233.3,101.9 234.3,101.9 235.3,101.9 236.3,101.9 237.3,101.9 238.3,101.9 239.3,101.9 240.3,101.9 241.3,101.9 242.3,101.9 243.3,101.9 244.3,101.9 245.3,101.9 246.3,101.9 247.3,101.9 248.3,101.9 249.3,101.9 250.3,101.9 251.3,101.9 252.3,101.9 253.3,101.9 254.3,101.9 255.3,101.9 256.3,101.9 257.3,101.9 258.3,101.9 259.3,101.9 260.3,101.9 261.3,101.9 262.3,101.9 263.3,101.9 264.3,101.9 265.3,101.9 266.3,101.9 267.3,101.9 268.3,101.9 269.3,101.9 270.3,101.9 271.3,101.9 272.3,101.9 273.3,101.9 274.3,101.9 275.3,101.9 276.3,101.9 277.3,101.9 278.3,101.9 279.3,101.9 280.3,101.9 281.3,101.9 282.3,101.9 283.3,101.9 284.3,101.9 285.3,101.9 286.3,101.9 287.3,101.9 288.3,101.9 289.3,101.9 290.3,85.9 291.3,45.9 292.3,42.6 293.3,41.4 294.3,40.2 295.3,39.6 296.3,39.2 297.3,38.7 298.3,38.3 299.3,38.1 300.3,38.0 301.3,37.8 302.3,37.7 303.3,37.5 304.3,37.4 305.3,37.2 306.3,37.1 307.3,36.9 308.3,36.8 309.3,36.6 310.3,36.4 311.3,36.3 312.3,36.1 313.3,36.0 314.3,35.8 315.3,35.7 316.3,35.5 317.3,35.4 318.3,35.3 319.3,35.2 320.3,35.1 321.3,35.0 322.3,34.8 323.3,34.7 324.3,34.6 325.3,34.5 326.3,34.4 327.3,34.3 328.3,34.2 329.3,34.0 330.3,33.9 331.3,33.8 332.3,33.7 333.3,33.6 334.3,33.5 335.3,33.4 336.3,33.2 337.3,33.1 338.3,33.0 339.3,32.9 340.3,32.8 341.3,32.7 342.3,32.6 343.3,32.5 344.3,32.3 345.3,32.2 346.3,32.1 347.3,32.0 348.3,31.9 349.3,31.8 350.3,31.7 351.3,31.5 352.3,31.4 353.3,31.3 354.3,31.1 355.3,31.0 356.3,30.8 357.3,30.7 358.3,30.5 359.3,30.4 360.3,30.2 361.3,30.1 362.3,29.9 363.3,29.8 364.3,29.6 365.3,29.5 366.3,29.3 367.3,29.2 368.3,29.0 369.3,28.9 370.3,28.7 371.3,28.6 372.3,28.4 373.3,28.3 374.3,28.1 375.3,28.0 376.3,27.8 377.3,27.7 378.3,27.6 379.3,27.4 380.3,27.3 381.3,27.2 382.3,27.0 383.3,26.9 384.3,26.8 385.3,26.7 386.3,26.6 387.3,26.5 388.3,26.4 389.3,26.2 390.3,26.1 391.3,25.9 392.3,25.8 393.3,25.6 394.3,25.4 395.3,25.3 396.3,25.1 397.3,25.0 398.3,24.8 399.3,24.7 400.3,24.5 401.3,24.3 402.3,24.2 403.3,24.0 404.3,23.9 405.3,23.7 406.3,23.6 407.3,23.4 408.3,23.2 409.3,23.1 410.3,22.9 411.3,23.0 412.3,24.0 413.3,25.0 414.3,27.7 415.3,32.1 416.3,36.5 417.3,40.0 418.3,43.3 419.3,46.5 420.3,47.3 421.3,48.1 422.3,48.9 423.3,49.7 424.3,50.0 425.3,49.9 426.3,49.8 427.3,49.7 428.3,49.6 429.3,49.5 430.3,49.4 431.3,49.3 432.3,49.2 433.3,49.0 434.3,48.8 435.3,48.7 436.3,48.5 437.3,48.3 438.3,48.2 439.3,48.0 440.3,47.8 441.3,47.7 442.3,47.5 443.3,47.4 444.3,47.2 445.3,47.1 446.3,46.9 447.3,46.8 448.3,46.7 449.3,46.5 450.3,46.4 451.3,46.2 452.3,46.1 453.3,46.0 454.3,45.8 455.3,45.7 456.3,45.5 457.3,45.4 458.3,45.2 459.3,45.0 460.3,44.9 461.3,44.7 462.3,44.5 463.3,44.4 464.3,44.2 465.3,44.1 466.3,43.9 467.3,43.7 468.3,43.6 469.3,43.4 470.3,43.2 471.3,43.1 472.3,42.9 473.3,42.7 474.3,42.5 475.3,42.3 476.3,42.1 477.3,41.9 478.3,41.7 479.3,41.5 480.3,41.3 481.3,41.0 482.3,40.8 483.3,40.6 484.3,40.4 485.3,40.2 486.3,40.0 487.3,39.8 488.3,39.6 489.3,39.3 490.3,39.1 491.3,38.9 492.3,38.7 493.3,38.5 494.3,38.3 495.3,38.1 496.3,37.9 497.3,37.6 498.3,37.4 499.3,37.2 500.3,37.0 501.3,36.8 502.3,36.6 503.3,36.4 504.3,36.1 505.3,35.9 506.3,35.7 507.3,35.4 508.3,35.2 509.3,35.0 510.3,34.7 511.3,34.5 512.3,34.3 513.3,34.0 514.3,33.8 515.3,33.6 516.3,33.3 517.3,33.1 518.3,32.9 519.3,32.6 520.3,32.4 521.3,32.2 522.3,31.9 523.3,31.7 524.3,31.5 525.3,31.2 526.3,31.0 527.3,30.8 528.3,30.5 529.3,30.3 530.3,30.1 531.3,29.9 532.3,29.6 533.3,29.4 534.1,29.2"/>
</g>
<rect x="47.4" y="19.2" width="486.2" height="87.2" class="sp"/>
<line x1="47.4" y1="106.4" x2="47.4" y2="108.4" class="tk"/>
<text x="47.4" y="119.4" class="tl" text-anchor="middle">0</text>
<line x1="108.2" y1="106.4" x2="108.2" y2="108.4" class="tk"/>
<text x="108.2" y="119.4" class="tl" text-anchor="middle">5</text>
<line x1="168.9" y1="106.4" x2="168.9" y2="108.4" class="tk"/>
<text x="168.9" y="119.4" class="tl" text-anchor="middle">10</text>
<line x1="229.7" y1="106.4" x2="229.7" y2="108.4" class="tk"/>
<text x="229.7" y="119.4" class="tl" text-anchor="middle">15</text>
<line x1="290.5" y1="106.4" x2="290.5" y2="108.4" class="tk"/>
<text x="290.5" y="119.4" class="tl" text-anchor="middle">20</text>
<line x1="351.3" y1="106.4" x2="351.3" y2="108.4" class="tk"/>
<text x="351.3" y="119.4" class="tl" text-anchor="middle">25</text>
<line x1="412.1" y1="106.4" x2="412.1" y2="108.4" class="tk"/>
<text x="412.1" y="119.4" class="tl" text-anchor="middle">30</text>
<line x1="472.8" y1="106.4" x2="472.8" y2="108.4" class="tk"/>
<text x="472.8" y="119.4" class="tl" text-anchor="middle">35</text>
<line x1="533.6" y1="106.4" x2="533.6" y2="108.4" class="tk"/>
<text x="533.6" y="119.4" class="tl" text-anchor="middle">40</text>
<line x1="45.4" y1="59.3" x2="47.4" y2="59.3" class="tk"/>
<text x="43.1" y="63.7" class="tl" text-anchor="end">5</text>
<line x1="45.4" y1="101.8" x2="47.4" y2="101.8" class="tk"/>
<text x="43.1" y="106.2" class="tl" text-anchor="end">0</text>
<text x="291.3" y="136.9" class="xl" text-anchor="middle">Time [s]</text>
<rect x="53.2" y="7.4" width="133.8" height="91.2" rx="2.2" fill="#fff" fill-opacity="0.8" stroke="#d6d6d6" stroke-width="0.8"/>
<line x1="57.6" y1="17.3" x2="82" y2="17.3" stroke="#000" stroke-width="1.6"/>
<text x="90.6" y="21.5" class="lg">lights occluded: 0</text>
<line x1="57.6" y1="35.1" x2="82" y2="35.1" stroke="#000" stroke-width="1.6" stroke-dasharray="1.8 2.9"/>
<text x="90.6" y="39.3" class="lg">lights occluded: 1</text>
<line x1="57.6" y1="52.9" x2="82" y2="52.9" stroke="#555" stroke-width="1.6" stroke-dasharray="7 3"/>
<text x="90.6" y="57.1" class="lg">lights occluded: 2</text>
<line x1="57.6" y1="70.8" x2="82" y2="70.8" stroke="#808080" stroke-width="1.6" stroke-dasharray="12.8 2.4 1.8 2.4"/>
<text x="90.6" y="75.0" class="lg">lights occluded: 3</text>
<line x1="57.6" y1="88.8" x2="82" y2="88.8" stroke="#000" stroke-width="1.6" stroke-dasharray="1.8 2.9"/>
<text x="90.6" y="93.0" class="lg">lights occluded: 4</text>
<text transform="translate(27.9,84.7) rotate(-90) scale(1.42,1)" class="yl eps">ε</text><text transform="translate(27.9,75.8) rotate(-90)" class="yl"><tspan class="sub" dy="2.8">r</tspan><tspan dy="-2.8"> [m]</tspan></text>
<text x="271.6" y="171.2" class="cap" text-anchor="middle">(a)</text>
</g>
<g id="pb">
<line x1="47.4" y1="201.4" x2="47.4" y2="288.3" class="g"/>
<line x1="108.2" y1="201.4" x2="108.2" y2="288.3" class="g"/>
<line x1="168.9" y1="201.4" x2="168.9" y2="288.3" class="g"/>
<line x1="229.7" y1="201.4" x2="229.7" y2="288.3" class="g"/>
<line x1="290.5" y1="201.4" x2="290.5" y2="288.3" class="g"/>
<line x1="351.3" y1="201.4" x2="351.3" y2="288.3" class="g"/>
<line x1="412.1" y1="201.4" x2="412.1" y2="288.3" class="g"/>
<line x1="472.8" y1="201.4" x2="472.8" y2="288.3" class="g"/>
<line x1="533.6" y1="201.4" x2="533.6" y2="288.3" class="g"/>
<line x1="47.4" y1="241.0" x2="533.6" y2="241.0" class="g"/>
<line x1="47.4" y1="284.7" x2="533.6" y2="284.7" class="g"/>
<clipPath id="cb"><rect x="47.4" y="201.4" width="486.2" height="86.9"/></clipPath>
<g clip-path="url(#cb)">
<polyline fill="none" stroke="#000" stroke-width="2.4"  points="47.3,263.9 47.8,264.0 48.3,263.7 48.8,262.6 49.3,262.0 49.8,261.4 50.3,261.5 50.8,261.9 51.3,262.2 51.8,260.3 52.3,261.5 52.8,261.2 53.3,260.8 53.8,259.6 54.3,259.3 54.8,260.4 55.3,260.1 55.8,259.5 56.3,259.3 56.8,258.6 57.3,260.2 57.8,259.8 58.3,259.9 58.8,259.4 59.3,258.7 59.8,259.2 60.3,257.6 60.8,257.5 61.3,255.8 61.8,255.2 62.3,255.1 62.8,253.4 63.3,253.3 63.8,252.0 64.3,250.8 64.8,250.1 65.3,249.1 65.8,250.1 66.3,250.9 66.8,250.2 67.3,251.1 67.8,252.4 68.3,251.7 68.8,251.6 69.3,250.3 69.8,248.6 70.3,247.4 70.8,244.6 71.3,243.6 71.8,242.3 72.3,239.5 72.8,237.4 73.3,238.2 73.8,239.2 74.3,240.2 74.8,242.0 75.3,242.2 75.8,243.1 76.3,243.2 76.8,243.6 77.3,244.6 77.8,246.1 78.3,246.4 78.8,248.1 79.3,249.8 79.8,251.7 80.3,251.0 80.8,250.9 81.3,250.8 81.8,249.7 82.3,250.1 82.8,250.4 83.3,248.8 83.8,248.8 84.3,246.9 84.8,246.3 85.3,245.9 85.8,244.7 86.3,244.9 86.8,245.9 87.3,247.3 87.8,248.5 88.3,248.6 88.8,249.0 89.3,249.8 89.8,248.8 90.3,250.5 90.8,249.9 91.3,249.4 91.8,249.1 92.3,247.1 92.8,245.8 93.3,244.9 93.8,244.6 94.3,243.2 94.8,243.4 95.3,242.6 95.8,242.6 96.3,240.2 96.8,239.7 97.3,238.4 97.8,234.9 98.3,232.0 98.8,229.5 99.3,233.4 99.8,235.9 100.3,240.2 100.8,241.3 101.3,242.2 101.8,242.4 102.3,244.0 102.8,244.3 103.3,243.8 103.8,243.5 104.3,243.6 104.8,243.0 105.3,243.0 105.8,242.7 106.3,242.7 106.8,243.9 107.3,245.5 107.8,245.8 108.3,246.3 108.8,248.5 109.3,248.5 109.8,249.1 110.3,250.3 110.8,250.8 111.3,251.4 111.8,251.5 112.3,251.2 112.8,249.9 113.3,248.9 113.8,248.9 114.3,249.1 114.8,249.8 115.3,250.1 115.8,251.6 116.3,251.2 116.8,251.6 117.3,253.4 117.8,253.9 118.3,253.0 118.8,253.0 119.3,253.8 119.8,254.5 120.3,253.4 120.8,253.3 121.3,252.2 121.8,252.5 122.3,251.5 122.8,250.7 123.3,250.7 123.8,249.9 124.3,251.4 124.8,254.5 125.3,256.3 125.8,256.3 126.3,256.2 126.8,256.8 127.3,256.2 127.8,256.0 128.3,254.8 128.8,251.5 129.3,250.8 129.8,248.5 130.3,244.7 130.8,240.5 131.3,237.5 131.8,239.6 132.3,242.0 132.8,243.1 133.3,245.6 133.8,246.3 134.3,249.2 134.8,250.8 135.3,251.5 135.8,251.6 136.3,252.6 136.8,253.4 137.3,254.4 137.8,256.6 138.3,257.3 138.8,259.1 139.3,259.6 139.8,261.0 140.3,263.4 140.8,264.9 141.3,263.5 141.8,264.5 142.3,264.0 142.8,262.8 143.3,263.7 143.8,263.1 144.3,263.6 144.8,265.0 145.3,265.0 145.8,264.1 146.3,265.6 146.8,262.8 147.3,262.3 147.8,259.8 148.3,258.3 148.8,257.3 149.3,257.6 149.8,258.6 150.3,258.5 150.8,259.4 151.3,259.1 151.8,260.3 152.3,260.8 152.8,262.5 153.3,264.3 153.8,263.8 154.3,264.1 154.8,262.4 155.3,263.0 155.8,261.8 156.3,260.5 156.8,261.0 157.3,260.6 157.8,260.0 158.3,260.9 158.8,262.2 159.3,263.7 159.8,265.5 160.3,266.2 160.8,265.9 161.3,266.1 161.8,267.7 162.3,268.4 162.8,268.4 163.3,268.8 163.8,269.1 164.3,267.3 164.8,267.3 165.3,267.9 165.8,266.1 166.3,265.0 166.8,264.0 167.3,264.1 167.8,264.0 168.3,265.4 168.8,267.9 169.3,269.4 169.8,269.4 170.3,268.8 170.8,269.6 171.3,268.3 171.8,268.8 172.3,267.9 172.8,267.1 173.3,265.2 173.8,264.0 174.3,264.3 174.8,264.1 175.3,265.5 175.8,267.3 176.3,267.2 176.8,268.1 177.3,268.9 177.8,268.5 178.3,268.9 178.8,270.5 179.3,270.5 179.8,270.5 180.3,271.3 180.8,272.7 181.3,273.5 181.8,273.7 182.3,273.8 182.8,275.5 183.3,275.0 183.8,276.7 184.3,275.3 184.8,276.5 185.3,276.0 185.8,275.2 186.3,274.9 186.8,274.9 187.3,274.8 187.8,274.4 188.3,274.4 188.8,273.0 189.3,273.4 189.8,273.7 190.3,272.9 190.8,273.6 191.3,272.7 191.8,272.4 192.3,273.5 192.8,272.8 193.3,273.1 193.8,273.3 194.3,274.2 194.8,273.6 195.3,275.3 195.8,275.3 196.3,275.5 196.8,276.0 197.3,277.7 197.8,278.1 198.3,277.8 198.8,277.8 199.3,279.4 199.8,278.0 200.3,278.5 200.8,279.3 201.3,279.5 201.8,278.4 202.3,278.7 202.8,278.6 203.3,278.8 203.8,278.7 204.3,278.6 204.8,278.6 205.3,278.9 205.8,278.3 206.3,279.3 206.8,278.4 207.3,277.7 207.8,278.5 208.3,278.6 208.8,278.0 209.3,277.8 209.8,279.4 210.3,280.1 210.8,280.7 211.3,280.7 211.8,280.3 212.3,279.6 212.8,279.2 213.3,278.6 213.8,279.7 214.3,279.0 214.8,278.9 215.3,279.1 215.8,279.8 216.3,281.1 216.8,280.5 217.3,280.6 217.8,281.5 218.3,281.6 218.8,282.4 219.3,282.3 219.8,282.3 220.3,283.3 220.8,283.2 221.3,282.1 221.8,282.4 222.3,282.9 222.8,282.3 223.3,283.6 223.8,283.7 224.3,282.9 224.8,284.1 225.3,283.5 225.8,283.0 226.3,283.8 226.8,284.0 227.3,284.1 227.8,284.6 228.3,284.6 228.8,283.8 229.3,283.9 229.8,283.2 230.3,284.0 230.8,283.5 231.3,283.4 231.8,284.7 232.3,283.2 232.8,283.4 233.3,284.4 233.8,284.2 234.3,284.0 234.8,284.7 235.3,283.6 235.8,283.6 236.3,284.1 236.8,283.4 237.3,284.4 237.8,284.9 238.3,284.6 238.8,284.7 239.3,283.2 239.8,283.8 240.3,284.6 240.8,284.4 241.3,283.9 241.8,284.0 242.3,283.2 242.8,283.2 243.3,282.8 243.8,284.2 244.3,283.1 244.8,284.3 245.3,282.4 245.8,283.8 246.3,283.3 246.8,282.3 247.3,283.4 247.8,283.4 248.3,283.3 248.8,283.3 249.3,283.2 249.8,283.2 250.3,282.5 250.8,283.4 251.3,282.5 251.8,282.1 252.3,283.3 252.8,281.9 253.3,282.2 253.8,282.6 254.3,282.8 254.8,282.0 255.3,281.5 255.8,282.5 256.3,282.6 256.8,282.9 257.3,282.1 257.8,283.1 258.3,283.1 258.8,283.3 259.3,283.2 259.8,283.1 260.3,282.9 260.8,283.5 261.3,282.4 261.8,283.2 262.3,283.5 262.8,283.5 263.3,282.4 263.8,282.8 264.3,283.6 264.8,283.1 265.3,281.7 265.8,282.1 266.3,282.4 266.8,282.2 267.3,281.4 267.8,280.4 268.3,280.8 268.8,280.7 269.3,281.2 269.8,281.2 270.3,282.6 270.8,282.8 271.3,282.5 271.8,283.2 272.3,281.8 272.8,281.9 273.3,282.6 273.8,282.4 274.3,281.6 274.8,283.0 275.3,282.4 275.8,282.3 276.3,281.9 276.8,282.2 277.3,281.2 277.8,281.6 278.3,282.1 278.8,282.0 279.3,281.8 279.8,280.9 280.3,281.4 280.8,282.6 281.3,282.5 281.8,282.4 282.3,281.0 282.8,281.1 283.3,281.3 283.8,282.5 284.3,281.4 284.8,281.4 285.3,281.5 285.8,282.4 286.3,282.0 286.8,282.7 287.3,281.3 287.8,281.3 288.3,282.7 288.8,281.4 289.3,282.5 289.8,282.3 290.3,281.6 290.8,281.8"/>
<polyline fill="none" stroke="#000" stroke-width="1.6" stroke-dasharray="2 3"  points="47.3,263.7 47.8,262.5 48.3,263.6 48.8,262.0 49.3,262.0 49.8,262.4 50.3,261.4 50.8,262.4 51.3,261.4 51.8,260.6 52.3,260.5 52.8,260.8 53.3,261.0 53.8,259.9 54.3,260.0 54.8,260.1 55.3,260.1 55.8,260.0 56.3,259.3 56.8,259.2 57.3,259.8 57.8,259.7 58.3,258.9 58.8,259.6 59.3,258.3 59.8,259.0 60.3,258.7 60.8,257.3 61.3,256.6 61.8,254.8 62.3,254.9 62.8,253.8 63.3,252.7 63.8,251.9 64.3,250.7 64.8,251.0 65.3,250.0 65.8,250.1 66.3,249.9 66.8,250.9 67.3,250.7 67.8,251.9 68.3,251.2 68.8,250.3 69.3,249.3 69.8,248.4 70.3,247.7 70.8,244.7 71.3,243.7 71.8,241.1 72.3,239.8 72.8,237.9 73.3,238.6 73.8,239.8 74.3,240.4 74.8,241.2 75.3,242.5 75.8,242.6 76.3,244.2 76.8,243.6 77.3,245.2 77.8,245.2 78.3,247.6 78.8,247.6 79.3,248.8 79.8,250.3 80.3,251.7 80.8,250.7 81.3,250.4 81.8,250.6 82.3,249.3 82.8,249.6 83.3,249.0 83.8,248.3 84.3,248.1 84.8,246.1 85.3,244.8 85.8,244.9 86.3,245.9 86.8,245.8 87.3,246.5 87.8,248.5 88.3,248.5 88.8,249.0 89.3,249.2 89.8,249.9 90.3,249.6 90.8,250.3 91.3,249.7 91.8,248.0 92.3,247.5 92.8,246.9 93.3,245.4 93.8,244.1 94.3,243.2 94.8,243.8 95.3,243.0 95.8,242.2 96.3,240.7 96.8,239.1 97.3,237.4 97.8,234.9 98.3,232.2 98.8,228.7 99.3,232.6 99.8,236.6 100.3,240.4 100.8,240.6 101.3,241.7 101.8,243.1 102.3,243.8 102.8,244.5 103.3,244.5 103.8,244.0 104.3,243.0 104.8,242.4 105.3,241.8 105.8,241.7 106.3,243.3 106.8,244.2 107.3,244.4 107.8,246.4 108.3,246.7 108.8,247.8 109.3,248.0 109.8,250.0 110.3,249.7 110.8,250.8 111.3,251.7 111.8,251.2 112.3,250.7 112.8,250.7 113.3,248.8 113.8,249.2 114.3,249.2 114.8,250.4 115.3,250.8 115.8,251.6 116.3,252.3 116.8,252.8 117.3,252.5 117.8,253.5 118.3,253.9 118.8,254.0 119.3,254.2 119.8,253.6 120.3,253.1 120.8,253.5 121.3,252.4 121.8,252.3 122.3,250.9 122.8,250.8 123.3,250.6 123.8,249.3 124.3,251.6 124.8,254.2 125.3,256.0 125.8,256.2 126.3,256.3 126.8,256.5 127.3,257.5 127.8,255.8 128.3,254.4 128.8,251.5 129.3,250.1 129.8,247.5 130.3,243.6 130.8,241.3 131.3,237.9 131.8,240.6 132.3,241.9 132.8,243.5 133.3,245.3 133.8,247.5 134.3,248.2 134.8,250.8 135.3,250.9 135.8,251.6 136.3,253.7 136.8,253.6 137.3,255.1 137.8,256.7 138.3,257.0 138.8,258.9 139.3,260.2 139.8,261.6 140.3,262.2 140.8,264.3 141.3,264.6 141.8,263.5 142.3,264.5 142.8,264.3 143.3,263.3 143.8,264.1 144.3,264.4 144.8,263.6 145.3,264.9 145.8,265.5 146.3,265.7 146.8,263.2 147.3,261.5 147.8,259.7 148.3,257.9 148.8,258.0 149.3,257.8 149.8,257.8 150.3,258.4 150.8,258.7 151.3,259.6 151.8,261.1 152.3,260.9 152.8,262.3 153.3,264.0 153.8,264.6 154.3,263.0 154.8,263.2 155.3,261.8 155.8,262.4 156.3,260.8 156.8,260.7 157.3,259.9 157.8,260.6 158.3,261.2 158.8,262.5 159.3,263.4 159.8,264.9 160.3,265.5 160.8,266.4 161.3,267.0 161.8,267.8 162.3,268.9 162.8,268.9 163.3,268.6 163.8,268.4 164.3,268.0 164.8,267.5 165.3,266.9 165.8,266.7 166.3,265.3 166.8,264.9 167.3,264.1 167.8,265.0 168.3,266.6 168.8,267.3 169.3,268.2 169.8,268.5 170.3,269.0 170.8,268.4 171.3,268.3 171.8,269.6 172.3,268.0 172.8,266.4 173.3,265.8 173.8,264.9 174.3,263.3 174.8,263.9 175.3,265.5 175.8,265.9 176.3,267.9 176.8,268.9 177.3,268.1 177.8,269.4 178.3,270.2 178.8,270.4 179.3,270.2 179.8,270.6 180.3,271.7 180.8,271.7 181.3,273.5 181.8,273.7 182.3,274.0 182.8,275.3 183.3,275.2 183.8,276.2 184.3,276.0 184.8,275.2 185.3,275.9 185.8,275.5 186.3,274.6 186.8,274.6 187.3,274.2 187.8,274.9 188.3,274.2 188.8,274.4 189.3,273.9 189.8,273.7 190.3,272.7 190.8,273.2 191.3,272.4 191.8,273.2 192.3,273.1 192.8,272.9 193.3,272.5 193.8,273.2 194.3,273.7 194.8,274.4 195.3,274.0 195.8,274.9 196.3,275.9 196.8,276.8 197.3,276.5 197.8,277.9 198.3,278.4 198.8,277.5 199.3,278.8 199.8,278.8 200.3,278.8 200.8,278.9 201.3,279.1 201.8,278.6 202.3,279.6 202.8,279.2 203.3,279.1 203.8,279.8 204.3,280.0 204.8,279.2 205.3,278.9 205.8,279.1 206.3,278.6 206.8,279.1 207.3,278.1 207.8,277.7 208.3,277.4 208.8,277.8 209.3,278.1 209.8,279.7 210.3,279.9 210.8,280.2 211.3,281.0 211.8,280.3 212.3,280.2 212.8,279.1 213.3,279.1 213.8,279.3 214.3,279.4 214.8,279.0 215.3,279.7 215.8,279.9 216.3,280.3 216.8,281.1 217.3,282.0 217.8,282.4 218.3,282.0 218.8,281.4 219.3,281.9 219.8,282.5 220.3,283.1 220.8,282.1 221.3,283.2 221.8,283.4 222.3,282.4 222.8,283.7 223.3,283.3 223.8,283.7 224.3,283.5 224.8,283.6 225.3,284.0 225.8,283.9 226.3,283.5 226.8,283.5 227.3,284.4 227.8,283.5 228.3,283.7 228.8,283.4 229.3,283.8 229.8,284.2 230.3,283.7 230.8,284.0 231.3,284.3 231.8,283.9 232.3,284.5 232.8,284.1 233.3,283.9 233.8,284.4 234.3,284.2 234.8,284.0 235.3,283.6 235.8,284.8 236.3,283.6 236.8,283.9 237.3,284.2 237.8,284.7 238.3,283.8 238.8,283.5 239.3,284.3 239.8,284.6 240.3,283.8 240.8,284.5 241.3,283.5 241.8,284.2 242.3,283.0 242.8,283.9 243.3,284.1 243.8,283.2 244.3,283.9 244.8,283.5 245.3,283.1 245.8,282.6 246.3,283.4 246.8,283.0 247.3,283.2 247.8,282.6 248.3,282.3 248.8,282.3 249.3,283.0 249.8,282.2 250.3,282.4 250.8,282.8 251.3,282.2 251.8,282.4 252.3,282.3 252.8,282.7 253.3,282.1 253.8,281.9 254.3,282.9 254.8,281.8 255.3,282.5 255.8,282.6 256.3,282.2 256.8,282.8 257.3,282.9 257.8,282.5 258.3,282.4 258.8,282.1 259.3,283.2 259.8,283.4 260.3,282.5 260.8,282.6 261.3,283.1 261.8,283.3 262.3,283.4 262.8,283.4 263.3,283.3 263.8,283.3 264.3,282.2 264.8,282.6 265.3,282.6 265.8,281.8 266.3,281.5 266.8,281.5 267.3,281.4 267.8,280.4 268.3,281.7 268.8,281.8 269.3,281.4 269.8,281.7 270.3,281.8 270.8,282.3 271.3,283.2 271.8,282.4 272.3,283.1 272.8,282.0 273.3,282.0 273.8,282.3 274.3,281.8 274.8,281.7 275.3,282.4 275.8,281.9 276.3,282.4 276.8,281.7 277.3,281.7 277.8,282.5 278.3,282.0 278.8,281.3 279.3,281.7 279.8,281.2 280.3,281.1 280.8,281.8 281.3,281.2 281.8,281.4 282.3,281.2 282.8,281.3 283.3,281.8 283.8,281.4 284.3,281.6 284.8,281.8 285.3,281.5 285.8,281.5 286.3,281.5 286.8,282.6 287.3,281.8 287.8,282.0 288.3,282.4 288.8,282.5 289.3,282.4 289.8,282.7 290.3,282.2 290.8,281.7"/>
<polyline fill="none" stroke="#000" stroke-width="2.1"  points="290.8,282.4 291.3,281.8 291.8,282.0 292.3,280.7 292.8,281.0 293.3,279.6 293.8,279.8 294.3,279.4 294.8,278.7 295.3,279.6 295.8,279.4 296.3,278.2 296.8,278.7 297.3,278.8 297.8,277.9 298.3,277.0 298.8,276.9 299.3,275.9 299.8,275.6 300.3,275.2 300.8,275.8 301.3,277.5 301.8,278.5 302.3,279.8 302.8,278.5 303.3,277.9 303.8,275.6 304.3,274.8 304.8,273.6 305.3,271.5 305.8,271.5 306.3,269.9 306.8,267.5 307.3,265.0 307.8,261.1 308.3,257.7 308.8,259.6 309.3,261.6 309.8,261.4 310.3,258.1 310.8,257.6 311.3,259.9 311.8,262.4 312.3,265.8 312.8,266.8 313.3,267.9 313.8,268.9 314.3,269.9 314.8,268.4 315.3,268.2 315.8,266.5 316.3,265.2 316.8,266.8 317.3,268.5 317.8,269.1 318.3,269.2 318.8,269.1 319.3,268.6 319.8,268.8 320.3,269.0 320.8,270.0 321.3,270.8 321.8,271.5 322.3,272.0 322.8,274.2 323.3,274.0 323.8,273.3 324.3,273.6 324.8,273.7 325.3,272.7 325.8,273.0 326.3,273.5 326.8,272.3 327.3,272.1 327.8,271.6 328.3,269.4 328.8,266.0 329.3,264.8 329.8,263.8 330.3,264.3 330.8,264.6 331.3,264.9 331.8,265.4 332.3,264.4 332.8,262.3 333.3,261.1 333.8,260.0 334.3,262.9 334.8,264.0 335.3,266.1 335.8,267.9 336.3,266.6 336.8,266.9 337.3,267.2 337.8,268.3 338.3,268.1 338.8,267.3 339.3,267.5 339.8,268.7 340.3,270.8 340.8,271.0 341.3,272.7 341.8,273.7 342.3,274.9 342.8,275.2 343.3,275.4 343.8,276.4 344.3,277.6 344.8,278.3 345.3,278.1 345.8,278.8 346.3,279.9 346.8,279.9 347.3,279.5 347.8,278.4 348.3,277.6 348.8,276.0 349.3,275.7 349.8,273.8 350.3,272.4 350.8,270.4 351.3,269.5 351.8,270.9 352.3,272.7 352.8,275.6 353.3,274.5 353.8,272.3 354.3,271.6 354.8,270.8 355.3,269.5 355.8,268.5 356.3,268.2 356.8,267.1 357.3,267.1 357.8,265.7 358.3,266.3 358.8,265.7 359.3,264.8 359.8,266.2 360.3,268.1 360.8,268.6 361.3,268.7 361.8,266.6 362.3,265.0 362.8,262.0 363.3,262.0 363.8,263.9 364.3,266.6 364.8,267.3 365.3,267.3 365.8,266.5 366.3,265.5 366.8,265.6 367.3,267.3 367.8,267.8 368.3,269.6 368.8,271.1 369.3,272.0 369.8,273.0 370.3,272.9 370.8,272.9 371.3,273.3 371.8,273.9 372.3,274.5 372.8,274.2 373.3,273.1 373.8,271.9 374.3,272.3 374.8,272.2 375.3,271.3 375.8,272.1 376.3,272.0 376.8,273.2 377.3,272.9 377.8,274.6 378.3,274.1 378.8,274.9 379.3,274.9 379.8,275.4 380.3,275.4 380.8,277.3 381.3,276.8 381.8,277.3 382.3,277.8 382.8,277.7 383.3,278.1 383.8,278.2 384.3,279.5 384.8,279.6 385.3,278.8 385.8,279.8 386.3,278.1 386.8,278.5 387.3,278.6 387.8,277.1 388.3,276.6 388.8,277.2 389.3,276.5 389.8,277.3 390.3,276.5 390.8,277.0 391.3,277.3 391.8,278.2 392.3,278.2 392.8,278.9 393.3,278.0 393.8,278.4 394.3,278.4 394.8,277.6 395.3,278.4 395.8,278.8 396.3,278.0 396.8,278.4 397.3,278.3 397.8,279.5 398.3,279.5 398.8,279.8 399.3,279.1 399.8,279.1 400.3,278.6 400.8,278.4 401.3,279.6 401.8,278.7 402.3,277.6 402.8,275.8 403.3,275.8 403.8,273.5 404.3,275.6 404.8,276.6 405.3,277.9 405.8,278.6 406.3,278.9 406.8,279.1 407.3,279.3 407.8,280.0 408.3,279.0 408.8,279.3 409.3,280.2 409.8,280.4 410.3,280.1 410.8,279.2 411.3,278.1 411.8,274.6 412.3,269.9 412.8,258.4 413.3,259.8 413.8,270.2 414.3,275.5 414.8,280.0 415.3,280.3 415.8,278.5 416.3,277.4 416.8,268.6 417.3,254.7 417.8,236.4 418.3,214.8 418.8,229.4 419.3,243.2 419.8,257.2 420.3,264.6 420.8,266.2 421.3,264.8 421.8,261.9 422.3,257.3 422.8,254.8 423.3,251.1 423.8,247.9 424.3,249.3 424.8,250.5 425.3,252.6 425.8,254.7 426.3,258.6 426.8,258.8 427.3,257.9 427.8,257.1 428.3,255.7 428.8,257.7 429.3,259.8 429.8,261.8 430.3,263.4 430.8,266.6 431.3,268.6 431.8,270.2 432.3,271.7 432.8,272.6 433.3,271.1 433.8,270.1 434.3,270.3 434.8,269.6 435.3,269.0 435.8,268.7 436.3,269.1 436.8,269.3 437.3,270.8 437.8,270.3 438.3,270.6 438.8,271.4 439.3,270.8 439.8,271.5 440.3,271.9 440.8,271.9 441.3,271.7 441.8,272.5 442.3,272.3 442.8,272.9 443.3,273.3 443.8,273.2 444.3,274.5 444.8,273.8 445.3,274.0 445.8,273.9 446.3,272.7 446.8,272.3 447.3,273.5 447.8,272.3 448.3,272.1 448.8,271.9 449.3,270.5 449.8,270.4 450.3,269.5 450.8,269.2 451.3,268.8 451.8,269.0 452.3,268.8 452.8,269.5 453.3,269.0 453.8,269.3 454.3,268.4 454.8,268.1 455.3,268.6 455.8,268.0 456.3,268.6 456.8,267.9 457.3,267.6 457.8,268.3 458.3,267.2 458.8,268.0 459.3,267.3 459.8,266.7 460.3,267.4 460.8,267.3 461.3,266.3 461.8,266.8 462.3,266.7 462.8,267.0 463.3,266.0 463.8,266.4 464.3,267.0 464.8,265.5 465.3,266.7 465.8,266.2 466.3,266.5 466.8,266.2 467.3,266.6 467.8,266.7 468.3,267.4 468.8,267.4 469.3,267.6 469.8,267.7 470.3,266.9 470.8,267.6 471.3,267.9 471.8,266.8 472.3,267.9 472.8,267.8 473.3,267.3 473.8,268.1 474.3,268.3 474.8,268.4 475.3,267.6 475.8,269.4 476.3,268.7 476.8,269.7 477.3,268.9 477.8,269.9 478.3,269.3 478.8,270.3 479.3,270.8 479.8,270.6 480.3,271.4 480.8,271.3 481.3,270.5 481.8,270.4 482.3,270.3 482.8,270.6 483.3,271.5 483.8,270.4 484.3,271.1 484.8,270.7 485.3,270.7 485.8,270.5 486.3,269.7 486.8,270.8 487.3,270.0 487.8,270.8 488.3,269.3 488.8,269.4 489.3,269.4 489.8,270.3 490.3,269.2 490.8,269.7 491.3,269.7 491.8,269.5 492.3,269.0 492.8,269.8 493.3,268.9 493.8,268.3 494.3,268.7 494.8,267.8 495.3,268.6 495.8,267.6 496.3,268.6 496.8,267.1 497.3,267.3 497.8,267.0 498.3,267.4 498.8,267.0 499.3,266.9 499.8,266.7 500.3,266.8 500.8,266.1 501.3,266.1 501.8,265.8 502.3,265.5 502.8,266.1 503.3,266.4 503.8,266.2 504.3,266.1 504.8,264.6 505.3,265.5 505.8,264.4 506.3,265.5 506.8,265.5 507.3,264.8 507.8,265.6 508.3,264.7 508.8,264.7 509.3,264.3 509.8,265.0 510.3,264.5 510.8,264.3 511.3,264.0 511.8,264.2 512.3,262.7 512.8,263.3 513.3,262.1 513.8,262.0 514.3,261.5 514.8,262.2 515.3,262.9 515.8,261.7 516.3,261.6 516.8,262.2 517.3,261.4 517.8,262.0 518.3,262.1 518.8,261.5 519.3,262.8 519.8,262.0 520.3,262.3 520.8,261.6 521.3,262.9 521.8,261.7 522.3,262.1 522.8,261.5 523.3,261.7 523.8,261.6 524.3,262.0 524.8,261.5 525.3,262.1 525.8,262.3 526.3,261.7 526.8,262.6 527.3,261.5 527.8,262.3 528.3,262.7 528.8,262.4 529.3,261.4 529.8,261.5 530.3,261.5 530.8,261.6 531.3,262.2 531.8,262.9 532.3,262.0 532.8,262.7 533.3,261.8 533.8,263.0 534.1,262.0"/>
<polyline fill="none" stroke="#222" stroke-width="1.5" stroke-dasharray="3 2"  points="290.8,282.2 291.8,282.2 292.8,282.2 293.8,282.1 294.8,282.1 295.8,282.1 296.8,282.1 297.8,282.1 298.8,282.0 299.8,282.0 300.8,282.0 301.8,282.0 302.8,282.0 303.8,281.9 304.8,281.9 305.8,281.9 306.8,281.9 307.8,281.9 308.8,281.8 309.8,281.8 310.8,281.8 311.8,281.8 312.8,281.7 313.8,281.7 314.8,281.7 315.8,281.7 316.8,281.7 317.8,281.6 318.8,281.6 319.8,281.6 320.8,281.6 321.8,281.6 322.8,281.5 323.8,281.5 324.8,281.5 325.8,281.5 326.8,281.5 327.8,281.4 328.8,281.4 329.8,281.4 330.8,281.4 331.8,281.3 332.8,281.3 333.8,281.3 334.8,281.3 335.8,281.3 336.8,281.2 337.8,281.2 338.8,281.2 339.8,281.2 340.8,281.1 341.8,281.1 342.8,281.1 343.8,281.1 344.8,281.1 345.8,281.0 346.8,281.0 347.8,281.0 348.8,281.0 349.8,280.9 350.8,280.9 351.8,280.9 352.8,280.9 353.8,280.9 354.8,280.8 355.8,280.8 356.8,280.8 357.8,280.8 358.8,280.7 359.8,280.7 360.8,280.7 361.8,280.7 362.8,280.7 363.8,280.6 364.8,280.6 365.8,280.6 366.8,280.6 367.8,280.5 368.8,280.5 369.8,280.5 370.8,280.5 371.8,280.5 372.8,280.4 373.8,280.4 374.8,280.4 375.8,280.4 376.8,280.3 377.8,280.3 378.8,280.3 379.8,280.3 380.8,280.2 381.8,280.2 382.8,280.2 383.8,280.2 384.8,280.1 385.8,280.1 386.8,280.1 387.8,280.0 388.8,280.0 389.8,280.0 390.8,279.9 391.8,279.9 392.8,279.9 393.8,279.8 394.8,279.8 395.8,279.7 396.8,279.7 397.8,279.7 398.8,279.6 399.8,279.6 400.8,279.6 401.8,279.6 402.8,279.6 403.8,279.6 404.8,279.6 405.8,279.5 406.8,279.5 407.8,279.5 408.8,279.5 409.8,279.5 410.8,279.5 411.0,279.5"/>
<polyline fill="none" stroke="#000" stroke-width="1.55" stroke-dasharray="1.55 2.9"  points="383.0,280.6 383.5,211.3 384.0,211.1 384.5,210.9 385.0,210.8 385.5,210.6 386.0,210.4 386.5,210.3 387.0,210.1 387.5,209.9 388.0,209.8 388.5,209.6 389.0,209.4 389.5,209.3 390.0,209.1 390.5,208.9 391.0,208.8 391.5,208.6 392.0,208.5 392.5,208.3 393.0,208.1 393.5,208.0 394.0,207.8 394.5,207.6 395.0,207.5 395.5,207.3 396.0,207.1 396.5,207.0 397.0,206.8 397.5,206.6 398.0,206.5 398.5,206.3 399.0,206.1 399.5,206.0 400.0,205.8 400.5,206.0 401.0,206.1 401.5,206.3 402.0,206.4 402.5,206.6 403.0,210.5 403.5,222.0 404.0,230.8 404.5,236.8 405.0,249.0 405.5,237.8 406.0,235.0 406.5,245.8 407.0,258.0 407.5,263.8 408.0,266.9 408.5,270.0 409.0,272.3 409.5,274.6 410.0,276.6 410.5,278.0 411.0,279.5"/>
<polyline fill="none" stroke="#666" stroke-width="1.6" stroke-dasharray="5 2"  points="411.0,279.2 411.5,275.5 412.0,271.8 412.5,265.0 413.0,254.4 413.5,264.2 414.0,271.6 414.5,277.1 415.0,277.5 415.5,274.6 416.0,273.0 416.5,269.7 417.0,257.6 417.5,244.9 418.0,226.6 418.5,220.1 419.0,230.1 419.5,237.6 420.0,242.6 420.5,247.0 421.0,246.0 421.5,245.6 422.0,244.5 422.5,244.3 423.0,243.4 423.5,244.4 424.0,246.3 424.5,246.8 425.0,248.5 425.5,249.8 426.0,249.8 426.5,249.8 427.0,249.0 427.5,248.9 428.0,251.0 428.5,252.3 429.0,255.0 429.5,256.5 430.0,258.3 430.5,259.4 431.0,260.0 431.5,260.3 432.0,260.9 432.5,261.7 433.0,262.0 433.5,262.7 434.0,262.3 434.5,263.1 435.0,262.3 435.5,262.6 436.0,263.2 436.5,263.0 437.0,262.9 437.5,263.4 438.0,263.3 438.5,263.2 439.0,264.2 439.5,264.2 440.0,264.3 440.5,264.0 441.0,264.4 441.5,264.1 442.0,264.2 442.5,265.1 443.0,264.5 443.5,264.3 444.0,264.8 444.5,264.5 445.0,264.6 445.5,264.0 446.0,264.3 446.5,264.2 447.0,263.8 447.5,263.3 448.0,263.7 448.5,263.2 449.0,262.6 449.5,262.0 450.0,262.0 450.5,261.4 451.0,260.8 451.5,261.2 452.0,261.1 452.5,261.2 453.0,260.8 453.5,259.9 454.0,259.9 454.5,259.5 455.0,259.3 455.5,259.7 456.0,259.3 456.5,259.1 457.0,259.6 457.5,259.8 458.0,259.7 458.5,258.8 459.0,259.0 459.5,258.7 460.0,259.0 460.5,259.5 461.0,258.7 461.5,259.2 462.0,258.9 462.5,258.9 463.0,259.1 463.5,258.6 464.0,258.5 464.5,258.9 465.0,258.3 465.5,258.2 466.0,258.4 466.5,258.4 467.0,258.3 467.5,258.3 468.0,258.9 468.5,258.4 469.0,258.3 469.5,258.8 470.0,258.8 470.5,258.7 471.0,259.0 471.5,258.1 472.0,258.4 472.5,258.8 473.0,259.0 473.5,258.2 474.0,258.7 474.5,258.2 475.0,258.5 475.5,259.0 476.0,259.2 476.5,258.6 477.0,259.0 477.5,259.8 478.0,259.6 478.5,259.7 479.0,259.5 479.5,259.9 480.0,259.8 480.5,259.9 481.0,260.1 481.5,260.3 482.0,260.2 482.5,260.2 483.0,259.9 483.5,260.0 484.0,260.4 484.5,260.4 485.0,260.3 485.5,259.6 486.0,260.0 486.5,260.0 487.0,259.5 487.5,259.5 488.0,259.7 488.5,259.5 489.0,259.4 489.5,258.6 490.0,258.4 490.5,259.0 491.0,258.7 491.5,258.2 492.0,257.9 492.5,258.0 493.0,258.3 493.5,257.9 494.0,258.1 494.5,257.5 495.0,257.9 495.5,257.2 496.0,257.9 496.5,257.2 497.0,256.8 497.5,257.5 498.0,256.9 498.5,256.9 499.0,256.5 499.5,256.5 500.0,256.6 500.5,256.4 501.0,256.5 501.5,256.1 502.0,256.2 502.5,255.7 503.0,256.1 503.5,256.1 504.0,256.3 504.5,256.1 505.0,255.4 505.5,255.6 506.0,255.9 506.5,255.8 507.0,255.1 507.5,255.0 508.0,255.4 508.5,255.3 509.0,254.9 509.5,255.0 510.0,255.0 510.5,255.4 511.0,254.8 511.5,255.3 512.0,255.2 512.5,254.6 513.0,255.1 513.5,254.3 514.0,254.5 514.5,254.2 515.0,254.3 515.5,254.2 516.0,254.7 516.5,254.7 517.0,254.1 517.5,254.1 518.0,254.6 518.5,253.8 519.0,254.0 519.5,254.1 520.0,254.1 520.5,253.5 521.0,253.6 521.5,253.4 522.0,254.0 522.5,253.9 523.0,254.0 523.5,253.6 524.0,253.1 524.5,254.0 525.0,253.2 525.5,253.2 526.0,253.0 526.5,253.4 527.0,253.6 527.5,253.8 528.0,253.4 528.5,252.9 529.0,253.7 529.5,252.9 530.0,253.0 530.5,252.9 531.0,253.6 531.5,253.1 532.0,253.5 532.5,253.2 533.0,253.0 533.5,253.3 534.0,252.7 534.1,252.8"/>
<polyline fill="none" stroke="#000" stroke-width="1.8" stroke-dasharray="1.8 2.4"  points="411.0,279.9 411.5,275.9 412.0,272.1 412.5,265.6 413.0,254.2 413.5,264.2 414.0,272.0 414.5,277.1 415.0,277.2 415.5,275.0 416.0,272.9 416.5,270.4 417.0,257.0 417.5,244.8 418.0,226.3 418.5,219.4 419.0,229.7 419.5,237.6 420.0,242.4 420.5,246.7 421.0,246.5 421.5,245.0 422.0,245.2 422.5,243.7 423.0,244.0 423.5,245.0 424.0,246.4 424.5,247.1 425.0,248.1 425.5,249.6 426.0,249.2 426.5,249.3 427.0,249.2 427.5,248.6 428.0,251.1 428.5,252.6 429.0,254.5 429.5,256.5 430.0,258.6 430.5,258.9 431.0,259.7 431.5,260.3 432.0,261.8 432.5,261.9 433.0,262.7 433.5,262.2 434.0,263.0 434.5,262.3 435.0,262.9 435.5,262.3 436.0,263.2 436.5,262.8 437.0,263.2 437.5,263.3 438.0,263.1 438.5,263.5 439.0,263.2 439.5,264.1 440.0,264.0 440.5,264.0 441.0,264.3 441.5,264.4 442.0,264.4 442.5,264.5 443.0,264.8 443.5,264.6 444.0,265.0 444.5,264.7 445.0,264.8 445.5,264.0 446.0,264.4 446.5,264.1 447.0,263.7 447.5,263.5 448.0,263.3 448.5,262.8 449.0,262.4 449.5,262.0 450.0,262.3 450.5,261.4 451.0,261.7 451.5,261.6 452.0,261.0 452.5,261.2 453.0,261.0 453.5,260.6 454.0,260.3 454.5,259.6 455.0,259.5 455.5,259.3 456.0,259.3 456.5,259.6 457.0,259.4 457.5,259.7 458.0,259.1 458.5,259.4 459.0,259.1 459.5,258.9 460.0,259.4 460.5,258.8 461.0,259.0 461.5,258.7 462.0,259.1 462.5,258.5 463.0,258.4 463.5,258.9 464.0,258.7 464.5,258.8 465.0,258.2 465.5,258.8 466.0,258.1 466.5,259.0 467.0,258.9 467.5,258.8 468.0,258.3 468.5,258.6 469.0,259.0 469.5,258.7 470.0,258.7 470.5,258.0 471.0,258.0 471.5,258.6 472.0,258.5 472.5,258.5 473.0,258.2 473.5,258.3 474.0,258.9 474.5,258.4 475.0,259.1 475.5,258.5 476.0,259.0 476.5,259.2 477.0,259.4 477.5,259.7 478.0,259.8 478.5,260.0 479.0,259.3 479.5,259.5 480.0,259.7 480.5,259.9 481.0,260.5 481.5,260.3 482.0,260.4 482.5,260.2 483.0,260.2 483.5,259.7 484.0,260.4 484.5,260.2 485.0,260.2 485.5,260.3 486.0,259.7 486.5,259.7 487.0,259.6 487.5,259.4 488.0,259.4 488.5,259.4 489.0,259.2 489.5,258.7 490.0,259.1 490.5,258.3 491.0,258.3 491.5,258.4 492.0,258.7 492.5,258.0 493.0,258.5 493.5,258.1 494.0,258.1 494.5,257.6 495.0,258.2 495.5,257.8 496.0,257.1 496.5,257.7 497.0,257.3 497.5,257.5 498.0,257.3 498.5,257.4 499.0,257.3 499.5,256.9 500.0,256.9 500.5,256.1 501.0,256.7 501.5,256.6 502.0,256.7 502.5,256.4 503.0,256.2 503.5,256.3 504.0,256.0 504.5,255.8 505.0,256.3 505.5,255.7 506.0,255.3 506.5,255.1 507.0,255.4 507.5,255.4 508.0,255.5 508.5,254.9 509.0,255.3 509.5,255.7 510.0,255.4 510.5,255.3 511.0,255.0 511.5,255.3 512.0,254.5 512.5,255.1 513.0,255.0 513.5,254.6 514.0,254.6 514.5,254.2 515.0,254.0 515.5,254.3 516.0,254.2 516.5,254.4 517.0,254.1 517.5,254.6 518.0,253.8 518.5,254.4 519.0,254.1 519.5,253.7 520.0,254.3 520.5,253.9 521.0,253.4 521.5,254.1 522.0,253.5 522.5,253.8 523.0,253.9 523.5,253.9 524.0,253.8 524.5,253.9 525.0,253.8 525.5,253.2 526.0,253.6 526.5,253.5 527.0,253.1 527.5,253.3 528.0,253.6 528.5,253.3 529.0,253.2 529.5,253.3 530.0,253.3 530.5,253.5 531.0,253.5 531.5,252.9 532.0,252.9 532.5,252.9 533.0,253.4 533.5,253.4 534.0,252.8 534.1,253.3"/>
</g>
<rect x="47.4" y="201.4" width="486.2" height="86.9" class="sp"/>
<line x1="47.4" y1="288.3" x2="47.4" y2="290.3" class="tk"/>
<text x="47.4" y="301.3" class="tl" text-anchor="middle">0</text>
<line x1="108.2" y1="288.3" x2="108.2" y2="290.3" class="tk"/>
<text x="108.2" y="301.3" class="tl" text-anchor="middle">5</text>
<line x1="168.9" y1="288.3" x2="168.9" y2="290.3" class="tk"/>
<text x="168.9" y="301.3" class="tl" text-anchor="middle">10</text>
<line x1="229.7" y1="288.3" x2="229.7" y2="290.3" class="tk"/>
<text x="229.7" y="301.3" class="tl" text-anchor="middle">15</text>
<line x1="290.5" y1="288.3" x2="290.5" y2="290.3" class="tk"/>
<text x="290.5" y="301.3" class="tl" text-anchor="middle">20</text>
<line x1="351.3" y1="288.3" x2="351.3" y2="290.3" class="tk"/>
<text x="351.3" y="301.3" class="tl" text-anchor="middle">25</text>
<line x1="412.1" y1="288.3" x2="412.1" y2="290.3" class="tk"/>
<text x="412.1" y="301.3" class="tl" text-anchor="middle">30</text>
<line x1="472.8" y1="288.3" x2="472.8" y2="290.3" class="tk"/>
<text x="472.8" y="301.3" class="tl" text-anchor="middle">35</text>
<line x1="533.6" y1="288.3" x2="533.6" y2="290.3" class="tk"/>
<text x="533.6" y="301.3" class="tl" text-anchor="middle">40</text>
<line x1="45.4" y1="241.0" x2="47.4" y2="241.0" class="tk"/>
<text x="43.1" y="245.4" class="tl" text-anchor="end">0.2</text>
<line x1="45.4" y1="284.7" x2="47.4" y2="284.7" class="tk"/>
<text x="43.1" y="289.1" class="tl" text-anchor="end">0.0</text>
<text x="291.3" y="318.8" class="xl" text-anchor="middle">Time [s]</text>
<text transform="translate(18.4,267.3) rotate(-90) scale(1.42,1)" class="yl eps">ε</text><text transform="translate(18.4,258.4) rotate(-90)" class="yl"><tspan class="sub" dy="2.8">r</tspan><tspan dy="-2.8"> [m]</tspan></text>
<text x="271.4" y="356.2" class="cap" text-anchor="middle">(b)</text>
</g>
<g id="pc">
<line x1="47.4" y1="385.4" x2="47.4" y2="472.3" class="g"/>
<line x1="108.2" y1="385.4" x2="108.2" y2="472.3" class="g"/>
<line x1="168.9" y1="385.4" x2="168.9" y2="472.3" class="g"/>
<line x1="229.7" y1="385.4" x2="229.7" y2="472.3" class="g"/>
<line x1="290.5" y1="385.4" x2="290.5" y2="472.3" class="g"/>
<line x1="351.3" y1="385.4" x2="351.3" y2="472.3" class="g"/>
<line x1="412.1" y1="385.4" x2="412.1" y2="472.3" class="g"/>
<line x1="472.8" y1="385.4" x2="472.8" y2="472.3" class="g"/>
<line x1="533.6" y1="385.4" x2="533.6" y2="472.3" class="g"/>
<line x1="47.4" y1="417.8" x2="533.6" y2="417.8" class="g"/>
<line x1="47.4" y1="467.9" x2="533.6" y2="467.9" class="g"/>
<clipPath id="cc"><rect x="47.4" y="385.4" width="486.2" height="86.9"/></clipPath>
<g clip-path="url(#cc)">
<polyline fill="none" stroke="#999" stroke-width="1.9"  points="290.3,450.0 290.7,451.5 291.0,450.2 291.4,451.5 291.7,450.3 292.1,449.7 292.4,451.5 292.8,449.8 293.1,451.5 293.5,450.6 293.8,450.0 294.2,450.6 294.5,452.2 294.9,450.1 295.2,449.5 295.6,452.5 295.9,449.7 296.3,450.2 296.6,451.2 297.0,452.4 297.3,453.2 297.7,450.4 298.0,450.6 298.4,453.5 298.7,452.0 299.1,453.1 299.4,451.4 299.8,451.3 300.1,453.4 300.5,451.1 300.8,451.4 301.2,451.9 301.5,451.8 301.9,451.3 302.2,451.8 302.6,451.5 302.9,452.9 303.3,453.5 303.6,453.0 304.0,451.4 304.3,453.4 304.7,453.9 305.0,452.1 305.4,453.3 305.7,455.1 306.1,454.7 306.4,453.4 306.8,452.8 307.1,452.5 307.5,452.2 307.8,452.9 308.2,453.9 308.5,454.0 308.9,453.0 309.2,454.0 309.6,454.1 309.9,455.5 310.3,455.9 310.6,456.1 311.0,454.4 311.3,455.8 311.7,455.0 312.0,453.2 312.4,453.1 312.7,455.0 313.1,455.4 313.4,455.3 313.8,454.7 314.1,455.1 314.5,455.4 314.8,455.6 315.2,453.6 315.5,454.9 315.9,454.4 316.2,455.0 316.6,454.7 316.9,453.5 317.3,456.2 317.6,455.2 318.0,456.5 318.3,453.6 318.7,453.8 319.0,453.9 319.4,456.7 319.7,455.4 320.1,456.3 320.4,453.9 320.8,456.3 321.1,454.0 321.5,457.0 321.8,455.6 322.2,457.3 322.5,456.1 322.9,456.0 323.2,454.5 323.6,456.2 323.9,456.7 324.3,456.2 324.6,456.5 325.0,457.3 325.3,456.6 325.7,456.5 326.0,456.1 326.4,455.9 326.7,456.8 327.1,457.3 327.4,456.9 327.8,454.7 328.1,455.3 328.5,456.6 328.8,456.5 329.2,457.8 329.5,458.1 329.9,457.8 330.2,456.8 330.6,457.3 330.9,457.8 331.3,455.3 331.6,456.0 332.0,455.0 332.3,457.2 332.7,458.3 333.0,455.0 333.4,455.5 333.7,455.8 334.1,458.0 334.4,456.5 334.8,456.0 335.1,456.6 335.5,456.3 335.8,456.3 336.2,457.5 336.5,457.9 336.9,456.4 337.2,457.6 337.6,455.7 337.9,459.2 338.3,456.1 338.6,457.8 339.0,459.4 339.3,457.0 339.7,456.9 340.0,458.6 340.4,457.7 340.7,457.0 341.1,458.1 341.4,459.1 341.8,458.6 342.1,457.1 342.5,458.7 342.8,459.6 343.2,457.1 343.5,458.7 343.9,458.2 344.2,458.9 344.6,457.0 344.9,457.4 345.3,457.9 345.6,459.7 346.0,458.1 346.3,458.0 346.7,459.5 347.0,457.3 347.4,458.0 347.7,458.9 348.1,458.2 348.4,459.2 348.8,459.2 349.1,457.6 349.5,457.6 349.8,460.0 350.2,458.8 350.5,457.8 350.9,457.6 351.2,458.9 351.6,460.5 351.9,458.2 352.3,461.1 352.6,457.6 353.0,459.7 353.3,460.1 353.7,459.6 354.0,458.6 354.4,458.8 354.7,459.7 355.1,461.0 355.4,459.3 355.8,459.0 356.1,459.3 356.5,461.5 356.8,458.9 357.2,458.5 357.5,461.2 357.9,458.4 358.2,461.0 358.6,460.3 358.9,461.5 359.3,459.2 359.6,461.2 360.0,458.5 360.3,461.0 360.7,459.4 361.0,459.9 361.4,461.1 361.7,460.6 362.1,460.0 362.4,459.4 362.8,461.1 363.1,460.1 363.5,459.3 363.8,459.9 364.2,461.4 364.5,458.7 364.9,459.7 365.2,461.2 365.6,460.8 365.9,460.2 366.3,459.2 366.6,458.9 367.0,460.2 367.3,461.2 367.7,459.8 368.0,462.1 368.4,461.1 368.7,460.5 369.1,461.6 369.4,460.0 369.8,462.2 370.1,460.3 370.5,459.0 370.8,462.6 371.2,460.9 371.5,462.4 371.9,459.5 372.2,459.9 372.6,460.9 372.9,462.4 373.3,459.6 373.6,461.2 374.0,462.0 374.3,460.7 374.7,461.0 375.0,462.8 375.4,461.4 375.7,461.9 376.1,461.9 376.4,462.7 376.8,460.8 377.1,461.5 377.5,460.4 377.8,460.8 378.2,462.6 378.5,463.1 378.9,460.9 379.2,462.5 379.6,461.7 379.9,462.3 380.3,461.1 380.6,461.1 381.0,460.6 381.3,461.7 381.7,460.1 382.0,463.1 382.4,460.9 382.7,462.3 383.1,461.9 383.4,461.3 383.8,463.5 384.1,463.2 384.5,462.8 384.8,460.6 385.2,461.9 385.5,462.6 385.9,460.6 386.2,462.8 386.6,463.3 386.9,463.8 387.3,462.2 387.6,460.5 388.0,461.2 388.3,463.4 388.7,461.0 389.0,462.8 389.4,462.9 389.7,462.2 390.1,463.5 390.4,461.1 390.8,462.9 391.1,462.1 391.5,463.8 391.8,462.2 392.2,461.5 392.5,462.1 392.9,462.8 393.2,461.2 393.6,464.1 393.9,463.3 394.3,462.2 394.6,463.3 395.0,464.6 395.3,463.3 395.7,462.6 396.0,463.7 396.4,464.0 396.7,463.8 397.1,462.1 397.4,461.4 397.8,462.6 398.1,463.0 398.5,464.5 398.8,461.8 399.2,464.6 399.5,461.8 399.9,462.8 400.2,463.1 400.6,465.1 400.9,465.2 401.3,461.9 401.6,462.5 402.0,463.5 402.3,462.9 402.7,465.4 403.0,464.2 403.4,463.2 403.7,464.2 404.1,464.5 404.4,465.2 404.8,465.4 405.1,463.7 405.5,465.0 405.8,465.8 406.2,464.2 406.5,465.0 406.9,464.2 407.2,463.8 407.6,463.2 407.9,462.8 408.3,463.7 408.6,463.9 409.0,464.7 409.3,465.1 409.7,465.3 410.0,465.5 410.4,464.8 410.7,464.6 411.1,465.0 411.4,465.4 411.8,466.0 412.1,463.9 412.5,466.1 412.5,463.7"/>
<polyline fill="none" stroke="#777" stroke-width="1.9"  points="290.3,432.1 290.7,434.9 291.0,432.8 291.4,435.0 291.7,433.3 292.1,433.2 292.4,435.1 292.8,434.7 293.1,432.2 293.5,435.4 293.8,432.7 294.2,434.3 294.5,435.3 294.9,435.0 295.2,433.7 295.6,435.3 295.9,434.4 296.3,432.8 296.6,435.4 297.0,434.0 297.3,433.1 297.7,433.5 298.0,432.6 298.4,434.0 298.7,433.9 299.1,432.5 299.4,433.4 299.8,432.8 300.1,435.1 300.5,432.6 300.8,434.0 301.2,434.2 301.5,434.0 301.9,433.2 302.2,432.7 302.6,431.9 302.9,432.6 303.3,434.8 303.6,432.8 304.0,433.7 304.3,432.9 304.7,432.0 305.0,433.3 305.4,435.4 305.7,433.2 306.1,433.0 306.4,433.8 306.8,433.1 307.1,432.6 307.5,433.1 307.8,435.0 308.2,432.3 308.5,432.2 308.9,434.5 309.2,432.4 309.6,432.2 309.9,432.6 310.3,434.9 310.6,435.1 311.0,435.1 311.3,432.8 311.7,435.0 312.0,431.9 312.4,433.4 312.7,433.7 313.1,433.3 313.4,435.2 313.8,434.4 314.1,433.4 314.5,434.3 314.8,434.4 315.2,432.1 315.5,432.8 315.9,432.8 316.2,435.0 316.6,434.7 316.9,432.7 317.3,435.2 317.6,431.9 318.0,432.8 318.3,432.3 318.7,433.5 319.0,434.9 319.4,434.4 319.7,431.7 320.1,432.5 320.4,434.4 320.8,432.6 321.1,434.5 321.5,433.7 321.8,434.0 322.2,434.0 322.5,433.5 322.9,432.1 323.2,434.3 323.6,433.4 323.9,433.9 324.3,431.4 324.6,431.9 325.0,433.3 325.3,434.1 325.7,432.5 326.0,433.9 326.4,431.2 326.7,431.3 327.1,433.6 327.4,434.6 327.8,432.2 328.1,432.3 328.5,432.2 328.8,433.1 329.2,432.4 329.5,432.3 329.9,433.7 330.2,430.9 330.6,434.0 330.9,433.5 331.3,434.3 331.6,433.8 332.0,433.6 332.3,431.8 332.7,433.5 333.0,432.9 333.4,431.9 333.7,433.6 334.1,432.4 334.4,434.2 334.8,433.2 335.1,433.7 335.5,433.8 335.8,432.6 336.2,433.7 336.5,432.6 336.9,432.3 337.2,434.0 337.6,432.9 337.9,432.9 338.3,433.9 338.6,432.6 339.0,430.3 339.3,432.7 339.7,432.5 340.0,432.8 340.4,433.7 340.7,432.8 341.1,433.7 341.4,433.0 341.8,433.6 342.1,431.6 342.5,430.9 342.8,432.0 343.2,433.2 343.5,433.1 343.9,432.4 344.2,431.4 344.6,430.9 344.9,430.0 345.3,431.4 345.6,431.7 346.0,433.4 346.3,431.8 346.7,431.9 347.0,431.4 347.4,429.8 347.7,430.7 348.1,432.0 348.4,432.2 348.8,433.0 349.1,431.3 349.5,432.1 349.8,432.4 350.2,432.3 350.5,430.0 350.9,432.7 351.2,432.2 351.6,431.8 351.9,429.9 352.3,432.8 352.6,431.8 353.0,430.0 353.3,431.4 353.7,429.8 354.0,429.5 354.4,431.8 354.7,431.9 355.1,431.1 355.4,429.7 355.8,430.4 356.1,429.5 356.5,430.0 356.8,429.4 357.2,431.5 357.5,431.9 357.9,430.9 358.2,431.4 358.6,429.6 358.9,432.3 359.3,431.1 359.6,429.4 360.0,430.9 360.3,430.6 360.7,432.0 361.0,431.6 361.4,429.2 361.7,431.2 362.1,429.0 362.4,430.6 362.8,431.8 363.1,429.4 363.5,431.1 363.8,430.2 364.2,429.1 364.5,431.9 364.9,431.2 365.2,429.6 365.6,429.3 365.9,429.9 366.3,431.1 366.6,431.8 367.0,430.4 367.3,428.5 367.7,428.5 368.0,429.4 368.4,431.3 368.7,429.0 369.1,430.5 369.4,428.5 369.8,429.5 370.1,430.7 370.5,430.8 370.8,428.4 371.2,428.9 371.5,429.1 371.9,429.2 372.2,429.5 372.6,431.0 372.9,428.6 373.3,429.0 373.6,429.9 374.0,430.9 374.3,430.9 374.7,428.5 375.0,430.0 375.4,430.4 375.7,429.6 376.1,431.1 376.4,428.4 376.8,430.0 377.1,430.5 377.5,431.5 377.8,427.9 378.2,430.5 378.5,429.1 378.9,430.5 379.2,429.7 379.6,430.6 379.9,428.4 380.3,431.1 380.6,429.1 381.0,430.6 381.3,428.8 381.7,428.2 382.0,428.9 382.4,430.1 382.7,430.9 383.1,429.4 383.4,428.8 383.8,431.0 384.1,430.3 384.5,429.3 384.8,430.0 385.2,428.6 385.5,429.5 385.9,429.1 386.2,428.6 386.6,428.0 386.9,428.5 387.3,430.6 387.6,430.4 388.0,429.3 388.3,430.9 388.7,428.3 389.0,430.4 389.4,430.5 389.7,428.0 390.1,430.9 390.4,430.6 390.8,429.5 391.1,429.6 391.5,429.9 391.8,429.5 392.2,428.0 392.5,429.4 392.9,430.9 393.2,429.8 393.6,428.7 393.9,431.1 394.3,429.4 394.6,428.5 395.0,430.0 395.3,428.5 395.7,430.1 396.0,430.3 396.4,428.6 396.7,429.1 397.1,430.1 397.4,428.7 397.8,430.9 398.1,430.6 398.5,428.6 398.8,430.1 399.2,430.0 399.5,429.3 399.9,430.4 400.2,429.6 400.6,429.6 400.9,429.4 401.3,430.1 401.6,428.0 402.0,430.2 402.3,428.5 402.7,428.9 403.0,431.0 403.4,428.9 403.7,430.3 404.1,429.0 404.4,431.7 404.8,431.7 405.1,429.3 405.5,431.4 405.8,431.4 406.2,428.9 406.5,429.5 406.9,428.8 407.2,429.0 407.6,430.1 407.9,430.0 408.3,429.8 408.6,428.9 409.0,430.1 409.3,431.6 409.7,429.5 410.0,430.7 410.4,429.1 410.7,431.0 411.1,430.3 411.4,431.6 411.8,428.6 412.1,430.7 412.5,429.8 412.5,429.6"/>
<polyline fill="none" stroke="#444" stroke-width="1.9"  points="290.3,415.5 290.7,417.5 291.0,415.1 291.4,416.4 291.7,414.2 292.1,417.5 292.4,416.9 292.8,416.4 293.1,415.8 293.5,415.1 293.8,415.4 294.2,416.1 294.5,415.5 294.9,416.9 295.2,414.8 295.6,416.7 295.9,414.6 296.3,414.0 296.6,413.9 297.0,414.3 297.3,416.6 297.7,416.1 298.0,415.9 298.4,414.3 298.7,413.9 299.1,414.4 299.4,415.4 299.8,413.5 300.1,414.8 300.5,414.2 300.8,415.5 301.2,415.1 301.5,413.2 301.9,413.8 302.2,415.5 302.6,415.8 302.9,414.3 303.3,415.4 303.6,413.2 304.0,413.8 304.3,414.6 304.7,412.4 305.0,414.1 305.4,415.2 305.7,412.9 306.1,412.1 306.4,414.3 306.8,414.3 307.1,412.8 307.5,413.0 307.8,413.1 308.2,412.1 308.5,414.4 308.9,412.4 309.2,414.4 309.6,413.9 309.9,411.9 310.3,414.1 310.6,411.9 311.0,413.6 311.3,411.5 311.7,413.2 312.0,412.6 312.4,412.8 312.7,413.5 313.1,413.4 313.4,410.8 313.8,411.2 314.1,414.0 314.5,412.0 314.8,413.3 315.2,412.2 315.5,412.9 315.9,410.3 316.2,411.8 316.6,412.6 316.9,411.3 317.3,412.3 317.6,412.6 318.0,412.5 318.3,410.2 318.7,412.6 319.0,411.4 319.4,409.8 319.7,412.0 320.1,409.9 320.4,410.1 320.8,410.3 321.1,410.6 321.5,409.3 321.8,411.6 322.2,411.4 322.5,409.5 322.9,411.8 323.2,408.4 323.6,408.6 323.9,410.8 324.3,408.8 324.6,408.6 325.0,407.9 325.3,408.9 325.7,407.9 326.0,409.8 326.4,407.5 326.7,408.9 327.1,410.5 327.4,409.2 327.8,408.3 328.1,407.4 328.5,410.4 328.8,406.9 329.2,408.5 329.5,408.0 329.9,409.3 330.2,408.6 330.6,409.7 330.9,409.7 331.3,408.8 331.6,407.8 332.0,407.9 332.3,409.2 332.7,408.5 333.0,408.4 333.4,409.0 333.7,406.9 334.1,408.4 334.4,408.0 334.8,406.6 335.1,407.9 335.5,405.4 335.8,405.0 336.2,408.0 336.5,408.3 336.9,406.2 337.2,406.0 337.6,405.3 337.9,407.8 338.3,405.2 338.6,406.5 339.0,407.0 339.3,405.6 339.7,407.4 340.0,405.1 340.4,406.5 340.7,404.4 341.1,405.3 341.4,406.0 341.8,404.3 342.1,406.3 342.5,406.6 342.8,404.1 343.2,404.8 343.5,402.9 343.9,404.2 344.2,404.8 344.6,403.2 344.9,406.0 345.3,403.0 345.6,404.1 346.0,402.3 346.3,403.2 346.7,404.9 347.0,403.4 347.4,404.9 347.7,404.7 348.1,403.2 348.4,402.1 348.8,404.4 349.1,404.7 349.5,402.2 349.8,401.5 350.2,404.1 350.5,403.2 350.9,401.8 351.2,401.4 351.6,402.5 351.9,404.0 352.3,401.1 352.6,403.1 353.0,401.3 353.3,402.5 353.7,401.9 354.0,402.2 354.4,400.6 354.7,403.1 355.1,403.5 355.4,401.7 355.8,401.3 356.1,402.6 356.5,400.3 356.8,399.8 357.2,402.1 357.5,401.4 357.9,401.6 358.2,399.4 358.6,402.3 358.9,401.6 359.3,399.5 359.6,401.4 360.0,402.5 360.3,399.8 360.7,402.2 361.0,402.2 361.4,401.7 361.7,400.3 362.1,400.1 362.4,399.7 362.8,401.2 363.1,398.8 363.5,400.1 363.8,400.1 364.2,401.4 364.5,401.2 364.9,399.6 365.2,400.0 365.6,400.3 365.9,399.6 366.3,398.6 366.6,398.1 367.0,399.5 367.3,399.0 367.7,398.3 368.0,398.5 368.4,397.3 368.7,399.1 369.1,397.3 369.4,397.3 369.8,399.7 370.1,397.2 370.5,399.2 370.8,398.4 371.2,397.5 371.5,398.6 371.9,398.3 372.2,399.6 372.6,399.8 372.9,397.9 373.3,397.4 373.6,398.2 374.0,396.4 374.3,397.8 374.7,396.3 375.0,396.8 375.4,398.5 375.7,398.5 376.1,397.4 376.4,399.1 376.8,396.2 377.1,396.7 377.5,397.6 377.8,397.1 378.2,397.8 378.5,395.7 378.9,397.9 379.2,395.9 379.6,396.2 379.9,395.8 380.3,397.7 380.6,395.2 381.0,398.5 381.3,396.3 381.7,395.8 382.0,396.1 382.4,396.6 382.7,395.6 383.1,397.5 383.4,397.4 383.8,396.9 384.1,397.9 384.5,397.2 384.8,395.1 385.2,395.4 385.5,396.1 385.9,395.5 386.2,395.7 386.6,396.0 386.9,397.0 387.3,396.1 387.6,397.1 388.0,396.3 388.3,394.0 388.7,397.5 389.0,394.5 389.4,395.3 389.7,393.9 390.1,395.7 390.4,396.2 390.8,394.7 391.1,397.0 391.5,394.1 391.8,397.0 392.2,396.3 392.5,394.0 392.9,393.9 393.2,393.7 393.6,395.6 393.9,394.4 394.3,397.0 394.6,393.9 395.0,396.4 395.3,394.9 395.7,393.6 396.0,396.2 396.4,395.6 396.7,394.3 397.1,394.8 397.4,394.1 397.8,394.0 398.1,395.6 398.5,395.5 398.8,394.3 399.2,394.6 399.5,397.1 399.9,394.8 400.2,395.3 400.6,394.1 400.9,393.6 401.3,395.7 401.6,394.4 402.0,396.2 402.3,394.4 402.7,394.9 403.0,395.9 403.4,396.0 403.7,394.8 404.1,396.2 404.4,395.6 404.8,396.5 405.1,396.3 405.5,396.5 405.8,394.5 406.2,393.9 406.5,393.6 406.9,394.8 407.2,395.1 407.6,394.5 407.9,394.2 408.3,395.1 408.6,394.7 409.0,393.7 409.3,396.6 409.7,395.5 410.0,394.2 410.4,394.8 410.7,395.7 411.1,393.9 411.4,395.5 411.8,396.2 412.1,394.2 412.5,395.4 412.5,396.8"/>
<polyline fill="none" stroke="#000" stroke-width="1.6"  points="290.3,466.8 290.7,466.3 291.0,465.6 291.4,467.2 291.7,467.3 292.1,466.9 292.4,465.9 292.8,466.6 293.1,467.0 293.5,466.5 293.8,467.3 294.2,466.6 294.5,465.5 294.9,466.1 295.2,467.3 295.6,467.3 295.9,467.2 296.3,465.9 296.6,466.0 297.0,466.6 297.3,465.6 297.7,467.2 298.0,466.4 298.4,466.9 298.7,466.7 299.1,466.2 299.4,467.2 299.8,466.0 300.1,466.5 300.5,466.3 300.8,466.9 301.2,466.8 301.5,466.4 301.9,466.2 302.2,466.0 302.6,465.7 302.9,466.4 303.3,465.6 303.6,466.2 304.0,467.3 304.3,466.8 304.7,466.3 305.0,467.3 305.4,467.4 305.7,467.0 306.1,466.2 306.4,467.2 306.8,467.0 307.1,466.8 307.5,466.5 307.8,466.1 308.2,466.2 308.5,466.6 308.9,466.5 309.2,466.4 309.6,467.1 309.9,466.1 310.3,465.9 310.6,465.9 311.0,466.8 311.3,465.7 311.7,466.2 312.0,465.9 312.4,465.7 312.7,467.3 313.1,466.3 313.4,467.3 313.8,466.5 314.1,467.4 314.5,465.9 314.8,466.3 315.2,466.1 315.5,467.0 315.9,466.1 316.2,466.7 316.6,466.0 316.9,465.8 317.3,467.3 317.6,467.1 318.0,467.1 318.3,467.5 318.7,467.2 319.0,465.8 319.4,466.2 319.7,466.4 320.1,467.4 320.4,465.7 320.8,467.0 321.1,465.8 321.5,466.0 321.8,466.1 322.2,466.5 322.5,467.3 322.9,467.3 323.2,466.3 323.6,467.5 323.9,465.8 324.3,465.8 324.6,466.6 325.0,466.3 325.3,467.3 325.7,465.8 326.0,467.3 326.4,466.2 326.7,467.2 327.1,465.8 327.4,467.4 327.8,467.2 328.1,466.8 328.5,467.2 328.8,467.2 329.2,467.3 329.5,467.0 329.9,467.5 330.2,466.8 330.6,467.0 330.9,466.6 331.3,467.5 331.6,465.8 332.0,467.1 332.3,466.2 332.7,467.0 333.0,466.1 333.4,466.4 333.7,467.0 334.1,466.5 334.4,467.0 334.8,467.0 335.1,466.0 335.5,467.0 335.8,466.3 336.2,466.6 336.5,466.7 336.9,466.5 337.2,466.3 337.6,466.1 337.9,466.9 338.3,467.2 338.6,466.2 339.0,466.9 339.3,466.1 339.7,467.0 340.0,466.4 340.4,466.5 340.7,467.0 341.1,466.7 341.4,466.6 341.8,466.4 342.1,467.3 342.5,466.4 342.8,467.0 343.2,466.0 343.5,467.5 343.9,467.6 344.2,466.2 344.6,466.6 344.9,466.1 345.3,466.6 345.6,467.4 346.0,466.9 346.3,466.1 346.7,467.6 347.0,466.9 347.4,466.0 347.7,466.5 348.1,466.1 348.4,467.5 348.8,466.6 349.1,466.8 349.5,467.4 349.8,466.9 350.2,466.0 350.5,466.0 350.9,466.2 351.2,467.1 351.6,467.0 351.9,466.5 352.3,466.5 352.6,466.1 353.0,466.0 353.3,467.1 353.7,467.3 354.0,466.8 354.4,467.2 354.7,466.7 355.1,466.0 355.4,465.9 355.8,467.4 356.1,467.5 356.5,467.7 356.8,466.5 357.2,467.3 357.5,467.3 357.9,467.1 358.2,467.4 358.6,467.7 358.9,466.3 359.3,467.3 359.6,466.7 360.0,467.4 360.3,467.6 360.7,467.7 361.0,467.3 361.4,467.6 361.7,466.2 362.1,466.1 362.4,466.7 362.8,467.3 363.1,467.4 363.5,467.5 363.8,466.2 364.2,467.2 364.5,467.0 364.9,466.3 365.2,466.8 365.6,467.4 365.9,466.3 366.3,467.6 366.6,466.3 367.0,466.1 367.3,466.7 367.7,467.4 368.0,467.4 368.4,467.6 368.7,466.3 369.1,466.4 369.4,466.4 369.8,466.4 370.1,466.8 370.5,467.8 370.8,467.2 371.2,466.6 371.5,467.8 371.9,467.0 372.2,466.1 372.6,466.2 372.9,467.0 373.3,466.4 373.6,466.5 374.0,466.7 374.3,467.1 374.7,467.7 375.0,466.2 375.4,467.7 375.7,466.8 376.1,466.6 376.4,466.6 376.8,466.7 377.1,466.8 377.5,466.8 377.8,467.6 378.2,466.7 378.5,466.5 378.9,467.8 379.2,467.5 379.6,466.1 379.9,467.1 380.3,467.2 380.6,466.4 381.0,466.7 381.3,466.4 381.7,466.3 382.0,467.0 382.4,466.2 382.7,466.9 383.1,467.0 383.4,467.2 383.8,467.7 384.1,466.2 384.5,466.4 384.8,467.3 385.2,466.9 385.5,466.4 385.9,466.5 386.2,466.5 386.6,467.8 386.9,466.8 387.3,467.2 387.6,467.2 388.0,467.5 388.3,467.0 388.7,466.8 389.0,467.4 389.4,466.7 389.7,466.3 390.1,467.9 390.4,467.8 390.8,467.0 391.1,467.5 391.5,467.6 391.8,466.8 392.2,466.5 392.5,466.5 392.9,467.8 393.2,468.0 393.6,467.0 393.9,467.9 394.3,467.0 394.6,467.0 395.0,466.7 395.3,467.2 395.7,466.9 396.0,467.8 396.4,467.9 396.7,467.5 397.1,467.0 397.4,466.9 397.8,468.0 398.1,467.4 398.5,467.3 398.8,466.2 399.2,468.0 399.5,466.8 399.9,467.1 400.2,466.5 400.6,468.0 400.9,467.8 401.3,466.9 401.6,467.7 402.0,468.0 402.3,467.8 402.7,466.4 403.0,466.4 403.4,466.9 403.7,467.1 404.1,466.7 404.4,466.5 404.8,466.7 405.1,468.0 405.5,467.7 405.8,466.5 406.2,467.0 406.5,467.8 406.9,466.8 407.2,467.2 407.6,466.8 407.9,467.9 408.3,467.2 408.6,466.8 409.0,467.6 409.3,466.7 409.7,466.7 410.0,468.0 410.4,467.9 410.7,466.6 411.1,466.5 411.4,467.9 411.8,467.1 412.1,467.7 412.5,466.9 412.5,466.4"/>
<polyline fill="none" stroke="#000" stroke-width="2.0"  points="47.3,423.9 47.7,424.9 48.1,425.6 48.5,426.0 48.9,423.7 49.3,423.9 49.7,424.7 50.1,424.4 50.5,424.5 50.9,424.2 51.3,423.3 51.7,423.9 52.1,422.6 52.5,423.5 52.9,422.2 53.3,420.8 53.7,423.0 54.1,420.6 54.5,421.7 54.9,422.2 55.3,421.6 55.7,421.2 56.1,422.4 56.5,419.8 56.9,420.4 57.3,421.0 57.7,421.6 58.1,418.9 58.5,418.0 58.9,420.5 59.3,419.9 59.7,419.1 60.1,420.5 60.5,420.6 60.9,418.5 61.3,418.5 61.7,418.9 62.1,418.1 62.5,418.2 62.9,417.4 63.3,419.3 63.7,417.9 64.1,419.3 64.5,418.9 64.9,417.7 65.3,416.5 65.7,415.8 66.1,416.6 66.5,418.3 66.9,417.3 67.3,417.9 67.7,415.5 68.1,417.6 68.5,418.3 68.9,414.9 69.3,415.1 69.7,417.4 70.1,415.7 70.5,415.4 70.9,417.1 71.3,417.1 71.7,417.3 72.1,414.7 72.5,415.7 72.9,413.9 73.3,415.2 73.7,416.2 74.1,414.4 74.5,414.8 74.9,415.2 75.3,413.1 75.7,413.7 76.1,413.9 76.5,415.6 76.9,414.7 77.3,414.3 77.7,412.9 78.1,414.8 78.5,412.6 78.9,414.3 79.3,412.4 79.7,414.6 80.1,411.4 80.5,411.5 80.9,414.0 81.3,411.4 81.7,412.7 82.1,411.8 82.5,412.4 82.9,412.3 83.3,411.7 83.7,411.7 84.1,412.3 84.5,410.3 84.9,411.9 85.3,409.5 85.7,411.9 86.1,410.5 86.5,411.3 86.9,409.3 87.3,412.0 87.7,411.7 88.1,411.4 88.5,411.1 88.9,410.7 89.3,408.1 89.7,409.5 90.1,408.4 90.5,407.8 90.9,409.8 91.3,410.7 91.7,410.5 92.1,408.3 92.5,407.7 92.9,408.8 93.3,407.1 93.7,409.2 94.1,409.4 94.5,408.3 94.9,409.0 95.3,406.6 95.7,408.8 96.1,406.7 96.5,407.2 96.9,408.5 97.3,407.0 97.7,407.8 98.1,405.7 98.5,405.0 98.9,407.9 99.3,407.7 99.7,407.1 100.1,406.0 100.5,405.0 100.9,404.2 101.3,406.8 101.7,406.8 102.1,404.5 102.5,405.8 102.9,405.1 103.3,404.9 103.7,404.8 104.1,404.8 104.5,403.1 104.9,403.5 105.3,403.4 105.7,403.9 106.1,403.7 106.5,405.6 106.9,405.2 107.3,404.3 107.7,403.1 108.1,403.6 108.5,403.2 108.9,402.7 109.3,404.2 109.7,403.8 110.1,403.5 110.5,402.2 110.9,402.1 111.3,401.9 111.7,402.8 112.1,402.9 112.5,403.0 112.9,402.0 113.3,401.0 113.7,402.5 114.1,401.8 114.5,402.8 114.9,400.7 115.3,399.8 115.7,402.0 116.1,399.0 116.5,399.4 116.9,400.8 117.3,401.0 117.7,399.3 118.1,398.5 118.5,400.1 118.9,400.7 119.3,401.3 119.7,398.9 120.1,398.7 120.5,399.9 120.9,400.1 121.3,398.2 121.7,397.5 122.1,397.9 122.5,397.7 122.9,398.5 123.3,397.3 123.7,396.8 124.1,399.7 124.5,398.3 124.9,396.2 125.3,398.5 125.7,396.5 126.1,397.2 126.5,397.6 126.9,398.1 127.3,398.7 127.7,396.2 128.1,395.4 128.5,395.8 128.9,396.1 129.3,395.6 129.7,396.2 130.1,396.1 130.5,397.7 130.9,397.6 131.3,395.8 131.7,395.6 132.1,397.4 132.5,396.8 132.9,397.5 133.3,396.0 133.7,394.7 134.1,395.7 134.5,395.4 134.9,396.8 135.3,396.8 135.7,395.1 136.1,397.4 136.5,396.9 136.9,395.9 137.3,395.9 137.7,395.9 138.1,396.6 138.5,395.8 138.9,397.1 139.3,396.1 139.7,395.1 140.1,396.5 140.5,395.7 140.9,394.3 141.3,395.8 141.7,396.5 142.1,395.0 142.5,395.3 142.9,393.5 143.3,393.3 143.7,393.9 144.1,396.2 144.5,393.2 144.9,393.9 145.3,395.0 145.7,395.7 146.1,395.8 146.5,394.6 146.9,392.5 147.3,393.8 147.7,395.3 148.1,393.2 148.5,392.1 148.9,395.2 149.3,395.0 149.7,394.4 150.1,392.4 150.5,394.3 150.9,392.2 151.3,392.6 151.7,391.8 152.1,392.4 152.5,394.6 152.9,394.1 153.3,393.8 153.7,393.5 154.1,392.2 154.5,391.7 154.9,392.2 155.3,394.2 155.7,393.0 156.1,391.4 156.5,392.1 156.9,392.6 157.3,391.6 157.7,391.4 158.1,392.6 158.5,393.9 158.9,391.6 159.3,392.3 159.7,393.5 160.1,392.6 160.5,392.8 160.9,393.0 161.3,393.4 161.7,390.8 162.1,392.5 162.5,390.8 162.9,391.1 163.3,390.7 163.7,391.1 164.1,393.4 164.5,391.0 164.9,390.5 165.3,391.3 165.7,393.0 166.1,392.2 166.5,392.2 166.9,392.6 167.3,391.4 167.7,393.0 168.1,392.0 168.5,391.4 168.9,391.2 169.3,393.6 169.7,392.9 170.1,392.1 170.5,392.0 170.9,392.3 171.3,390.3 171.7,390.5 172.1,392.4 172.5,392.4 172.9,393.2 173.3,392.2 173.7,392.6 174.1,392.0 174.5,391.5 174.9,391.7 175.3,393.4 175.7,393.3 176.1,393.2 176.5,392.1 176.9,390.9 177.3,390.5 177.7,393.3 178.1,390.6 178.5,391.5 178.9,393.0 179.3,391.0 179.7,393.0 180.1,391.1 180.5,393.0 180.9,392.7 181.3,391.3 181.7,391.5 182.1,391.6 182.5,392.3 182.9,393.5 183.3,392.2 183.7,391.8 184.1,391.7 184.5,391.0 184.9,392.7 185.3,392.1 185.7,393.5 186.1,392.2 186.5,393.7 186.9,392.0 187.3,392.3 187.7,391.1 188.1,393.2 188.5,390.6 188.9,391.2 189.3,391.6 189.7,393.4 190.1,392.7 190.5,391.7 190.9,393.7 191.3,393.5 191.7,390.8 192.1,391.5 192.5,393.1 192.9,393.7 193.3,393.3 193.7,393.8 194.1,391.2 194.5,390.9 194.9,392.4 195.3,391.1 195.7,393.2 196.1,394.0 196.5,392.4 196.9,392.9 197.3,392.3 197.7,391.6 198.1,391.4 198.5,393.5 198.9,394.2 199.3,392.3 199.7,391.6 200.1,394.0 200.5,392.1 200.9,393.8 201.3,393.4 201.7,392.3 202.1,393.0 202.5,392.5 202.9,391.7 203.3,392.1 203.7,393.3 204.1,394.0 204.5,391.7 204.9,392.1 205.3,391.5 205.7,394.8 206.1,391.8 206.5,392.8 206.9,391.7 207.3,393.3 207.7,393.8 208.1,393.4 208.5,394.0 208.9,392.5 209.3,394.9 209.7,394.4 210.1,392.5 210.5,393.4 210.9,392.0 211.3,394.8 211.7,395.1 212.1,393.8 212.5,393.3 212.9,394.9 213.3,393.4 213.7,392.4 214.1,394.5 214.5,393.7 214.9,395.7 215.3,394.1 215.7,392.8 216.1,395.1 216.5,395.8 216.9,393.0 217.3,393.7 217.7,394.3 218.1,395.1 218.5,395.1 218.9,394.9 219.3,395.7 219.7,395.3 220.1,393.0 220.5,396.2 220.9,395.8 221.3,395.3 221.7,395.7 222.1,395.9 222.5,393.4 222.9,395.4 223.3,393.8 223.7,394.2 224.1,396.2 224.5,395.4 224.9,394.6 225.3,394.3 225.7,395.3 226.1,394.1 226.5,395.1 226.9,396.8 227.3,395.2 227.7,395.7 228.1,397.2 228.5,395.3 228.9,395.1 229.3,395.6 229.7,395.6 230.1,397.6 230.5,394.4 230.9,394.9 231.3,397.1 231.7,394.5 232.1,396.0 232.5,396.9 232.9,394.8 233.3,395.7 233.7,395.7 234.1,396.5 234.5,396.9 234.9,397.4 235.3,395.2 235.7,395.8 236.1,397.5 236.5,398.0 236.9,396.2 237.3,395.3 237.7,395.6 238.1,397.9 238.5,395.7 238.9,396.0 239.3,396.0 239.7,396.8 240.1,397.6 240.5,395.9 240.9,397.1 241.3,398.7 241.7,397.3 242.1,397.3 242.5,398.2 242.9,397.7 243.3,397.3 243.7,398.7 244.1,396.4 244.5,396.7 244.9,399.4 245.3,397.0 245.7,396.4 246.1,396.7 246.5,399.4 246.9,396.9 247.3,398.1 247.7,398.8 248.1,396.5 248.5,397.4 248.9,399.0 249.3,397.5 249.7,397.8 250.1,398.5 250.5,399.4 250.9,397.8 251.3,397.3 251.7,396.9 252.1,397.8 252.5,399.2 252.9,400.1 253.3,398.7 253.7,397.6 254.1,399.2 254.5,397.5 254.9,397.6 255.3,397.7 255.7,400.5 256.1,399.5 256.5,397.4 256.9,400.6 257.3,398.7 257.7,398.0 258.1,399.7 258.5,399.2 258.9,399.6 259.3,399.0 259.7,398.2 260.1,397.5 260.5,399.8 260.9,399.2 261.3,399.0 261.7,399.6 262.1,399.3 262.5,400.7 262.9,400.1 263.3,400.7 263.7,398.4 264.1,399.7 264.5,400.7 264.9,400.2 265.3,399.0 265.7,400.2 266.1,399.6 266.5,398.7 266.9,400.2 267.3,398.0 267.7,398.0 268.1,398.4 268.5,398.2 268.9,400.7 269.3,398.5 269.7,401.1 270.1,397.9 270.5,398.0 270.9,399.2 271.3,399.9 271.7,400.0 272.1,398.2 272.5,399.6 272.9,398.5 273.3,398.7 273.7,398.7 274.1,398.8 274.5,400.8 274.9,400.6 275.3,398.4 275.7,400.2 276.1,398.7 276.5,398.0 276.9,398.1 277.3,400.5 277.7,400.2 278.1,399.7 278.5,398.3 278.9,400.6 279.3,399.6 279.7,399.9 280.1,400.7 280.5,398.9 280.9,399.0 281.3,398.2 281.7,399.0 282.1,400.7 282.5,400.0 282.9,398.8 283.3,398.8 283.7,400.1 284.1,400.8 284.5,399.3 284.9,397.9 285.3,401.1 285.7,400.9 286.1,400.0 286.5,398.0 286.9,399.4 287.3,398.9 287.7,398.2 288.1,399.3 288.5,399.6 288.9,399.6 289.3,398.9 289.7,398.7 290.1,400.7 290.5,398.3 290.9,399.7 291.3,399.7 291.7,398.4 292.1,397.8 292.5,399.4 292.9,399.5 293.3,398.2 293.7,397.7 294.1,399.4 294.5,397.6 294.9,399.0 295.3,400.1 295.7,400.4 296.1,399.4 296.5,399.5 296.9,397.9 297.3,399.1 297.7,398.2 298.1,400.1 298.5,398.6 298.9,399.4 299.3,399.8 299.7,398.7 300.1,400.3 300.5,398.9 300.9,398.0 301.3,400.0 301.7,399.3 302.1,397.0 302.5,397.9 302.9,399.5 303.3,399.2 303.7,398.5 304.1,400.1 304.5,398.0 304.9,399.2 305.3,398.0 305.7,397.7 306.1,397.5 306.5,397.1 306.9,397.2 307.3,397.3 307.7,397.7 308.1,400.0 308.5,397.2 308.9,398.2 309.3,397.3 309.7,398.1 310.1,396.7 310.5,397.5 310.9,397.4 311.3,398.3 311.7,396.6 312.1,398.2 312.5,396.8 312.9,399.4 313.3,397.9 313.7,399.0 314.1,399.2 314.5,397.4 314.9,399.1 315.3,398.2 315.7,399.1 316.1,399.0 316.5,396.8 316.9,398.5 317.3,397.6 317.7,396.3 318.1,397.0 318.5,396.9 318.9,398.0 319.3,397.3 319.7,396.7 320.1,398.8 320.5,396.6 320.9,398.5 321.3,398.4 321.7,396.5 322.1,398.2 322.5,398.2 322.9,398.1 323.3,399.0 323.7,398.9 324.1,397.2 324.5,396.7 324.9,395.9 325.3,396.6 325.7,397.7 326.1,398.3 326.5,395.9 326.9,397.1 327.3,395.8 327.7,398.2 328.1,398.3 328.5,395.5 328.9,395.4 329.3,397.9 329.7,396.5 330.1,396.2 330.5,398.3 330.9,398.0 331.3,395.7 331.7,395.7 332.1,397.9 332.5,397.9 332.9,396.2 333.3,396.0 333.7,397.2 334.1,395.0 334.5,395.5 334.9,394.7 335.3,394.9 335.7,394.8 336.1,395.4 336.5,396.8 336.9,397.4 337.3,394.8 337.7,394.7 338.1,395.9 338.5,396.3 338.9,396.6 339.3,395.8 339.7,396.9 340.1,394.4 340.5,395.4 340.9,394.2 341.3,397.1 341.7,397.0 342.1,395.7 342.5,396.3 342.9,395.5 343.3,396.7 343.7,396.1 344.1,395.2 344.5,394.9 344.9,395.7 345.3,393.8 345.7,394.6 346.1,393.5 346.5,394.5 346.9,396.2 347.3,394.7 347.7,395.5 348.1,393.2 348.5,393.1 348.9,393.6 349.3,395.5 349.7,393.5 350.1,393.2 350.5,395.2 350.9,394.6 351.3,393.1 351.7,394.3 352.1,393.3 352.5,393.8 352.9,394.2 353.3,395.7 353.7,393.7 354.1,392.8 354.5,394.6 354.9,395.1 355.3,395.0 355.7,393.0 356.1,395.2 356.5,392.6 356.9,392.5 357.3,394.6 357.7,394.4 358.1,393.7 358.5,394.3 358.9,392.9 359.3,395.1 359.7,393.2 360.1,394.4 360.5,394.8 360.9,393.5 361.3,391.7 361.7,394.3 362.1,394.9 362.5,392.4 362.9,394.9 363.3,391.7 363.7,394.0 364.1,394.6 364.5,394.7 364.9,391.5 365.3,394.5 365.7,393.8 366.1,394.2 366.5,393.2 366.9,392.0 367.3,393.4 367.7,393.6 368.1,392.0 368.5,392.9 368.9,393.8 369.3,393.6 369.7,392.2 370.1,393.3 370.5,393.9 370.9,393.8 371.3,391.1 371.7,391.9 372.1,391.6 372.5,392.3 372.9,391.3 373.3,391.2 373.7,393.2 374.1,392.1 374.5,391.4 374.9,391.1 375.3,391.7 375.7,393.3 376.1,392.6 376.5,393.3 376.9,393.2 377.3,393.9 377.7,390.6 378.1,392.9 378.5,391.2 378.9,391.3 379.3,390.7 379.7,393.0 380.1,390.6 380.5,392.3 380.9,391.0 381.3,393.0 381.7,391.5 382.1,390.6 382.5,393.5 382.9,391.2 383.3,391.8 383.7,390.9 384.1,391.0 384.5,391.9 384.9,390.5 385.3,390.3 385.7,392.3 386.1,391.5 386.5,393.5 386.9,393.5 387.3,390.3 387.7,392.3 388.1,391.1 388.5,390.5 388.9,392.7 389.3,391.5 389.7,391.1 390.1,391.8 390.5,390.7 390.9,392.4 391.3,391.3 391.7,393.3 392.1,392.2 392.5,392.9 392.9,393.4 393.3,390.4 393.7,392.8 394.1,391.6 394.5,391.8 394.9,392.1 395.3,392.3 395.7,393.1 396.1,390.8 396.5,392.3 396.9,392.6 397.3,391.5 397.7,390.7 398.1,393.3 398.5,390.4 398.9,392.4 399.3,392.3 399.7,392.4 400.1,393.5 400.5,393.6 400.9,391.1 401.3,392.7 401.7,393.0 402.1,392.0 402.5,392.7 402.9,390.4 403.3,391.9 403.7,391.8 404.1,393.0 404.5,391.4 404.9,393.5 405.3,392.8 405.7,392.9 406.1,393.6 406.5,392.2 406.9,392.2 407.3,390.5 407.7,390.8 408.1,393.2 408.5,392.6 408.9,393.0 409.3,392.0 409.7,391.1 410.1,390.9 410.5,393.7 410.9,393.1 411.3,391.1 411.7,391.6 412.1,391.2 412.5,391.7 412.5,392.7"/>
<polyline fill="none" stroke="#000" stroke-width="1.3"  points="47.3,424.9 47.7,426.1 48.1,423.4 48.5,423.1 48.9,425.3 49.3,425.3 49.7,424.5 50.1,422.9 50.5,423.9 50.9,422.1 51.3,423.3 51.7,422.8 52.1,421.4 52.5,423.4 52.9,423.7 53.3,421.0 53.7,423.2 54.1,420.4 54.5,422.3 54.9,422.4 55.3,421.2 55.7,422.0 56.1,422.1 56.5,420.7 56.9,420.7 57.3,421.5 57.7,419.3 58.1,420.5 58.5,420.3 58.9,420.0 59.3,419.9 59.7,418.4 60.1,420.4 60.5,419.4 60.9,418.3 61.3,417.8 61.7,419.4 62.1,417.0 62.5,418.5 62.9,417.3 63.3,419.5 63.7,418.7 64.1,417.8 64.5,418.2 64.9,417.6 65.3,416.2 65.7,417.2 66.1,417.7 66.5,417.2 66.9,418.5 67.3,416.6 67.7,416.9 68.1,416.3 68.5,417.8 68.9,417.8 69.3,416.3 69.7,415.2 70.1,415.9 70.5,417.0 70.9,415.5 71.3,417.1 71.7,416.6 72.1,414.3 72.5,415.5 72.9,416.5 73.3,416.6 73.7,413.8 74.1,413.6 74.5,414.8 74.9,414.7 75.3,413.8 75.7,415.7 76.1,413.4 76.5,414.8 76.9,414.9 77.3,412.4 77.7,412.3 78.1,414.0 78.5,412.2 78.9,412.3 79.3,414.4 79.7,412.9 80.1,412.6 80.5,414.2 80.9,412.5 81.3,411.6 81.7,412.2 82.1,412.2 82.5,413.1 82.9,413.0 83.3,410.9 83.7,411.5 84.1,412.9 84.5,410.4 84.9,410.3 85.3,410.8 85.7,412.3 86.1,410.2 86.5,410.8 86.9,409.7 87.3,409.3 87.7,409.7 88.1,410.0 88.5,410.8 88.9,409.6 89.3,410.6 89.7,410.9 90.1,408.1 90.5,409.9 90.9,408.4 91.3,408.6 91.7,407.5 92.1,409.0 92.5,409.7 92.9,407.9 93.3,408.9 93.7,409.2 94.1,407.8 94.5,407.2 94.9,406.6 95.3,409.0 95.7,406.9 96.1,407.9 96.5,407.2 96.9,408.2 97.3,406.4 97.7,407.9 98.1,408.0 98.5,407.6 98.9,405.9 99.3,405.7 99.7,405.9 100.1,406.9 100.5,406.4 100.9,405.0 101.3,405.5 101.7,404.7 102.1,406.4 102.5,406.4 102.9,404.6 103.3,406.4 103.7,404.9 104.1,404.4 104.5,403.1 104.9,403.9 105.3,405.5 105.7,404.9 106.1,405.4 106.5,402.4 106.9,404.7 107.3,403.8 107.7,404.9 108.1,404.2 108.5,403.3 108.9,403.6 109.3,404.5 109.7,401.5 110.1,401.8 110.5,402.3 110.9,401.8 111.3,402.5 111.7,402.5 112.1,402.6 112.5,400.4 112.9,403.0 113.3,400.7 113.7,400.2 114.1,402.4 114.5,400.4 114.9,400.4 115.3,400.4 115.7,400.0 116.1,401.3 116.5,399.6 116.9,401.6 117.3,400.5 117.7,401.0 118.1,401.4 118.5,401.2 118.9,400.1 119.3,400.3 119.7,398.7 120.1,398.8 120.5,399.2 120.9,398.6 121.3,398.9 121.7,398.7 122.1,398.6 122.5,398.3 122.9,397.5 123.3,399.0 123.7,397.3 124.1,397.1 124.5,397.1 124.9,398.0 125.3,396.2 125.7,398.1 126.1,396.9 126.5,396.7 126.9,397.8 127.3,398.0 127.7,395.9 128.1,397.4 128.5,395.2 128.9,398.3 129.3,395.6 129.7,396.2 130.1,396.1 130.5,395.6 130.9,397.2 131.3,397.6 131.7,395.0 132.1,394.9 132.5,395.3 132.9,395.8 133.3,394.6 133.7,395.9 134.1,396.6 134.5,395.4 134.9,395.7 135.3,396.2 135.7,396.3 136.1,396.6 136.5,395.1 136.9,396.4 137.3,396.7 137.7,397.6 138.1,395.9 138.5,397.3 138.9,395.6 139.3,397.0 139.7,396.3 140.1,395.1 140.5,394.0 140.9,394.7 141.3,394.0 141.7,394.8 142.1,395.9 142.5,395.2 142.9,395.1 143.3,395.8 143.7,395.8 144.1,395.5 144.5,395.4 144.9,394.1 145.3,393.8 145.7,394.4 146.1,393.2 146.5,392.8 146.9,393.1 147.3,394.6 147.7,395.3 148.1,394.3 148.5,394.5 148.9,392.4 149.3,393.2 149.7,394.0 150.1,393.5 150.5,392.9 150.9,394.9 151.3,392.6 151.7,394.0 152.1,393.3 152.5,394.8 152.9,391.7 153.3,393.7 153.7,394.3 154.1,394.0 154.5,391.6 154.9,392.4 155.3,392.9 155.7,392.7 156.1,392.0 156.5,391.4 156.9,393.1 157.3,394.2 157.7,392.7 158.1,391.9 158.5,391.5 158.9,394.0 159.3,393.7 159.7,391.1 160.1,393.4 160.5,393.0 160.9,391.7 161.3,392.4 161.7,391.8 162.1,391.8 162.5,392.4 162.9,393.2 163.3,391.6 163.7,391.0 164.1,393.5 164.5,391.5 164.9,391.2 165.3,393.2 165.7,392.0 166.1,393.2 166.5,393.6 166.9,391.0 167.3,392.8 167.7,391.7 168.1,391.7 168.5,391.6 168.9,392.0 169.3,392.7 169.7,390.9 170.1,391.6 170.5,391.0 170.9,390.8 171.3,390.5 171.7,393.2 172.1,391.4 172.5,391.8 172.9,390.9 173.3,391.7 173.7,390.2 174.1,392.0 174.5,391.1 174.9,391.5 175.3,390.6 175.7,392.6 176.1,390.4 176.5,390.5 176.9,393.1 177.3,392.4 177.7,391.7 178.1,392.5 178.5,391.9 178.9,391.3 179.3,390.8 179.7,391.7 180.1,392.9 180.5,390.8 180.9,390.6 181.3,393.2 181.7,392.4 182.1,390.9 182.5,391.4 182.9,393.3 183.3,391.6 183.7,393.2 184.1,392.4 184.5,390.9 184.9,391.4 185.3,391.8 185.7,391.2 186.1,393.5 186.5,393.3 186.9,393.1 187.3,393.6 187.7,391.8 188.1,390.9 188.5,393.5 188.9,393.3 189.3,391.6 189.7,391.5 190.1,393.4 190.5,391.8 190.9,391.2 191.3,391.6 191.7,393.1 192.1,392.9 192.5,391.4 192.9,391.3 193.3,392.3 193.7,392.2 194.1,391.1 194.5,391.2 194.9,393.6 195.3,392.5 195.7,391.0 196.1,393.5 196.5,392.9 196.9,393.3 197.3,393.5 197.7,391.6 198.1,392.6 198.5,391.9 198.9,392.7 199.3,391.7 199.7,394.1 200.1,393.9 200.5,393.2 200.9,393.1 201.3,394.4 201.7,393.5 202.1,392.7 202.5,392.4 202.9,393.4 203.3,393.6 203.7,394.1 204.1,394.5 204.5,393.7 204.9,394.3 205.3,392.9 205.7,394.0 206.1,391.9 206.5,394.2 206.9,392.0 207.3,392.2 207.7,393.6 208.1,393.3 208.5,393.8 208.9,392.3 209.3,394.4 209.7,393.2 210.1,394.4 210.5,395.1 210.9,392.5 211.3,392.7 211.7,394.9 212.1,393.1 212.5,393.3 212.9,393.5 213.3,392.5 213.7,393.3 214.1,392.9 214.5,395.0 214.9,394.4 215.3,392.7 215.7,395.3 216.1,394.6 216.5,393.6 216.9,394.2 217.3,395.7 217.7,392.9 218.1,393.5 218.5,393.1 218.9,395.8 219.3,393.9 219.7,395.7 220.1,394.2 220.5,395.6 220.9,394.4 221.3,394.5 221.7,394.7 222.1,395.0 222.5,394.8 222.9,394.2 223.3,393.7 223.7,393.7 224.1,395.6 224.5,396.4 224.9,396.5 225.3,395.6 225.7,396.9 226.1,395.6 226.5,395.9 226.9,396.9 227.3,396.0 227.7,394.7 228.1,396.2 228.5,395.2 228.9,396.7 229.3,396.0 229.7,397.4 230.1,396.7 230.5,396.5 230.9,395.0 231.3,397.7 231.7,395.2 232.1,397.2 232.5,397.4 232.9,395.4 233.3,395.0 233.7,395.0 234.1,395.5 234.5,395.4 234.9,395.4 235.3,398.0 235.7,395.2 236.1,396.1 236.5,395.7 236.9,397.7 237.3,395.4 237.7,396.9 238.1,397.1 238.5,396.4 238.9,396.4 239.3,398.1 239.7,397.5 240.1,398.4 240.5,395.6 240.9,395.8 241.3,395.8 241.7,398.5 242.1,397.9 242.5,396.8 242.9,397.4 243.3,397.0 243.7,396.7 244.1,398.1 244.5,397.4 244.9,398.4 245.3,397.5 245.7,398.9 246.1,399.3 246.5,399.1 246.9,397.7 247.3,399.4 247.7,398.1 248.1,398.5 248.5,396.7 248.9,399.5 249.3,398.9 249.7,399.2 250.1,397.0 250.5,397.2 250.9,397.1 251.3,399.2 251.7,399.7 252.1,399.0 252.5,399.2 252.9,399.7 253.3,400.1 253.7,398.5 254.1,398.8 254.5,397.6 254.9,398.8 255.3,398.5 255.7,397.8 256.1,397.9 256.5,398.1 256.9,399.0 257.3,399.7 257.7,398.4 258.1,400.2 258.5,399.6 258.9,399.7 259.3,400.1 259.7,398.6 260.1,400.7 260.5,397.8 260.9,397.6 261.3,399.7 261.7,400.5 262.1,398.8 262.5,399.7 262.9,400.5 263.3,399.1 263.7,399.4 264.1,400.6 264.5,400.5 264.9,398.9 265.3,398.2 265.7,399.2 266.1,399.0 266.5,400.4 266.9,398.6 267.3,399.5 267.7,400.3 268.1,401.0 268.5,399.5 268.9,399.1 269.3,399.3 269.7,399.6 270.1,400.5 270.5,398.6 270.9,401.0 271.3,400.6 271.7,398.5 272.1,398.1 272.5,398.0 272.9,400.8 273.3,398.0 273.7,398.7 274.1,400.2 274.5,401.1 274.9,398.3 275.3,399.6 275.7,400.2 276.1,400.3 276.5,399.2 276.9,399.7 277.3,400.8 277.7,401.2 278.1,399.6 278.5,400.4 278.9,400.2 279.3,399.8 279.7,399.5 280.1,400.6 280.5,400.1 280.9,400.5 281.3,400.0 281.7,398.2 282.1,399.3 282.5,399.3 282.9,398.1 283.3,400.2 283.7,400.5 284.1,399.7 284.5,400.3 284.9,399.1 285.3,400.3 285.7,399.7 286.1,398.1 286.5,400.3 286.9,399.8 287.3,399.6 287.7,399.0 288.1,401.0 288.5,398.9 288.9,399.7 289.3,398.3 289.7,398.5 290.1,398.7 290.5,400.8 290.9,398.8 291.3,400.8 291.7,399.5 292.1,399.4 292.5,398.6 292.9,399.0 293.3,398.6 293.7,400.0 294.1,398.8 294.5,400.7 294.9,397.8 295.3,397.6 295.7,399.2 296.1,400.0 296.5,397.9 296.9,399.3 297.3,400.3 297.7,399.7 298.1,400.4 298.5,398.8 298.9,398.7 299.3,397.7 299.7,398.0 300.1,400.1 300.5,399.3 300.9,399.7 301.3,397.8 301.7,398.1 302.1,397.3 302.5,398.7 302.9,397.6 303.3,398.3 303.7,398.9 304.1,399.9 304.5,399.8 304.9,399.0 305.3,397.0 305.7,399.4 306.1,398.5 306.5,398.1 306.9,399.8 307.3,398.0 307.7,399.4 308.1,399.4 308.5,398.0 308.9,398.6 309.3,399.0 309.7,397.8 310.1,397.9 310.5,399.0 310.9,398.8 311.3,399.0 311.7,397.8 312.1,397.4 312.5,397.9 312.9,399.7 313.3,398.3 313.7,398.7 314.1,397.4 314.5,399.0 314.9,399.4 315.3,399.2 315.7,397.6 316.1,397.1 316.5,398.3 316.9,398.2 317.3,396.9 317.7,396.4 318.1,399.2 318.5,398.9 318.9,397.6 319.3,396.5 319.7,397.9 320.1,397.6 320.5,398.3 320.9,397.0 321.3,397.2 321.7,398.1 322.1,398.3 322.5,396.6 322.9,397.2 323.3,398.3 323.7,397.8 324.1,396.2 324.5,396.8 324.9,397.9 325.3,395.8 325.7,398.6 326.1,397.9 326.5,396.5 326.9,395.7 327.3,398.0 327.7,395.7 328.1,397.2 328.5,397.8 328.9,395.4 329.3,397.9 329.7,395.2 330.1,398.2 330.5,396.7 330.9,396.9 331.3,397.7 331.7,398.1 332.1,395.4 332.5,395.0 332.9,397.6 333.3,395.5 333.7,396.3 334.1,397.2 334.5,397.2 334.9,396.3 335.3,397.7 335.7,397.5 336.1,395.1 336.5,397.2 336.9,396.1 337.3,394.8 337.7,395.5 338.1,395.3 338.5,396.9 338.9,396.9 339.3,394.8 339.7,395.2 340.1,394.0 340.5,394.0 340.9,394.8 341.3,394.2 341.7,396.5 342.1,396.9 342.5,394.7 342.9,393.8 343.3,394.3 343.7,395.7 344.1,394.6 344.5,395.5 344.9,394.5 345.3,394.5 345.7,394.1 346.1,396.0 346.5,394.3 346.9,393.4 347.3,395.3 347.7,395.2 348.1,394.0 348.5,395.8 348.9,393.1 349.3,396.0 349.7,394.6 350.1,393.0 350.5,393.8 350.9,394.9 351.3,395.6 351.7,394.4 352.1,395.3 352.5,394.6 352.9,393.4 353.3,392.5 353.7,394.3 354.1,394.0 354.5,393.9 354.9,392.6 355.3,394.3 355.7,395.2 356.1,394.4 356.5,392.5 356.9,393.7 357.3,394.7 357.7,394.8 358.1,393.0 358.5,393.6 358.9,394.1 359.3,392.8 359.7,392.1 360.1,394.6 360.5,392.8 360.9,393.3 361.3,393.7 361.7,391.8 362.1,394.9 362.5,392.3 362.9,394.0 363.3,394.4 363.7,392.0 364.1,393.7 364.5,392.9 364.9,392.4 365.3,392.6 365.7,393.4 366.1,393.8 366.5,394.3 366.9,392.3 367.3,393.2 367.7,392.9 368.1,391.8 368.5,392.4 368.9,391.5 369.3,392.8 369.7,391.5 370.1,392.0 370.5,393.0 370.9,391.2 371.3,391.1 371.7,393.3 372.1,393.7 372.5,392.1 372.9,392.5 373.3,391.6 373.7,392.9 374.1,391.0 374.5,391.5 374.9,391.6 375.3,391.5 375.7,393.5 376.1,393.6 376.5,392.5 376.9,390.9 377.3,391.6 377.7,393.4 378.1,392.4 378.5,393.5 378.9,391.6 379.3,392.6 379.7,391.1 380.1,393.3 380.5,393.6 380.9,392.6 381.3,392.3 381.7,393.5 382.1,391.2 382.5,393.3 382.9,390.7 383.3,391.7 383.7,392.7 384.1,392.9 384.5,391.6 384.9,392.9 385.3,392.4 385.7,391.9 386.1,391.4 386.5,392.4 386.9,393.5 387.3,392.7 387.7,390.6 388.1,390.8 388.5,393.4 388.9,391.2 389.3,393.4 389.7,391.0 390.1,390.9 390.5,393.4 390.9,392.4 391.3,393.1 391.7,393.2 392.1,390.4 392.5,390.8 392.9,390.7 393.3,391.2 393.7,390.8 394.1,391.1 394.5,391.3 394.9,390.8 395.3,391.4 395.7,392.8 396.1,392.5 396.5,390.6 396.9,391.2 397.3,391.5 397.7,393.3 398.1,391.9 398.5,392.0 398.9,391.1 399.3,390.5 399.7,391.9 400.1,391.7 400.5,393.2 400.9,392.7 401.3,391.9 401.7,390.5 402.1,393.2 402.5,391.2 402.9,391.9 403.3,392.2 403.7,392.2 404.1,392.4 404.5,393.3 404.9,391.2 405.3,393.6 405.7,391.9 406.1,393.3 406.5,392.8 406.9,392.7 407.3,391.2 407.7,393.4 408.1,390.9 408.5,391.6 408.9,391.0 409.3,391.5 409.7,393.3 410.1,393.4 410.5,393.3 410.9,391.2 411.3,392.3 411.7,392.8 412.1,393.7 412.5,392.1 412.5,392.6"/>
<polyline fill="none" stroke="#999" stroke-width="1.3"  points="412.5,391.7 413.0,393.7 413.5,393.9 414.0,394.1 414.5,394.1 415.0,390.7 415.5,393.4 416.0,392.3 416.5,394.2 417.0,392.2 417.5,390.9 418.0,392.8 418.5,390.9 419.0,391.7 419.5,394.6 420.0,394.6 420.5,393.5 421.0,392.6 421.5,390.7 422.0,392.1 422.5,391.9 423.0,393.0 423.5,393.0 424.0,393.6 424.5,393.6 425.0,393.3 425.5,393.5 426.0,391.5 426.5,391.3 427.0,392.4 427.5,393.9 428.0,391.5 428.5,394.1 429.0,394.6 429.5,395.0 430.0,394.1 430.5,393.9 431.0,393.4 431.5,395.3 432.0,395.6 432.5,394.4 433.0,395.5 433.5,394.3 434.0,395.8 434.5,395.9 435.0,396.3 435.5,395.1 436.0,396.7 436.5,396.7 437.0,394.4 437.5,394.0 438.0,396.2 438.5,395.0 439.0,397.0 439.5,393.7 440.0,394.5 440.5,394.4 441.0,394.2 441.5,394.1 442.0,394.1 442.5,394.6 443.0,394.4 443.5,396.1 444.0,396.5 444.5,395.9 445.0,396.8 445.5,395.3 446.0,399.0 446.5,396.3 447.0,398.4 447.5,396.7 448.0,399.6 448.5,396.6 449.0,396.0 449.5,397.4 450.0,396.4 450.5,400.3 451.0,400.4 451.5,397.6 452.0,396.9 452.5,400.1 453.0,400.7 453.5,400.9 454.0,400.8 454.5,399.5 455.0,398.3 455.5,399.5 456.0,398.5 456.5,400.9 457.0,400.7 457.5,400.1 458.0,401.5 458.5,401.2 459.0,399.3 459.5,400.4 460.0,401.7 460.5,400.9 461.0,402.4 461.5,403.2 462.0,403.4 462.5,401.7 463.0,401.5 463.5,402.3 464.0,402.8 464.5,404.3 465.0,403.1 465.5,403.9 466.0,404.8 466.5,403.6 467.0,404.6 467.5,403.2 468.0,403.4 468.5,403.3 469.0,402.6 469.5,403.1 470.0,406.1 470.5,403.6 471.0,403.6 471.5,405.7 472.0,405.5 472.5,404.8 473.0,404.7 473.5,404.2 474.0,404.0 474.5,404.1 475.0,405.2 475.5,406.3 476.0,406.4 476.5,407.3 477.0,408.3 477.5,407.0 478.0,406.3 478.5,409.1 479.0,406.2 479.5,408.2 480.0,406.6 480.5,408.2 481.0,409.9 481.5,406.6 482.0,409.7 482.5,406.9 483.0,409.5 483.5,408.1 484.0,408.7 484.5,408.3 485.0,410.5 485.5,408.9 486.0,409.4 486.5,409.3 487.0,409.0 487.5,408.3 488.0,408.8 488.5,410.9 489.0,409.6 489.5,409.6 490.0,410.6 490.5,411.7 491.0,409.0 491.5,411.6 492.0,411.6 492.5,409.3 493.0,409.1 493.5,412.4 494.0,409.8 494.5,409.2 495.0,409.7 495.5,410.5 496.0,409.6 496.5,411.1 497.0,412.1 497.5,413.1 498.0,413.6 498.5,413.8 499.0,414.2 499.5,412.3 500.0,414.0 500.5,413.5 501.0,411.3 501.5,412.1 502.0,412.4 502.5,412.6 503.0,412.8 503.5,413.4 504.0,413.0 504.5,413.4 505.0,413.5 505.5,415.3 506.0,414.1 506.5,413.6 507.0,416.9 507.5,415.1 508.0,417.5 508.5,416.5 509.0,414.8 509.5,414.7 510.0,417.8 510.5,415.7 511.0,414.9 511.5,417.5 512.0,415.1 512.5,415.5 513.0,418.4 513.5,416.7 514.0,418.7 514.5,418.2 515.0,416.3 515.5,419.9 516.0,417.7 516.5,419.4 517.0,419.3 517.5,418.5 518.0,420.6 518.5,417.5 519.0,418.6 519.5,421.3 520.0,418.6 520.5,419.7 521.0,421.5 521.5,419.3 522.0,419.7 522.5,419.5 523.0,421.7 523.5,421.0 524.0,420.8 524.5,422.9 525.0,422.2 525.5,420.2 526.0,423.7 526.5,422.7 527.0,423.5 527.5,422.6 528.0,424.4 528.5,422.2 529.0,422.7 529.5,423.2 530.0,422.5 530.5,423.4 531.0,425.2 531.5,424.7 532.0,422.7 532.5,425.2 533.0,422.6 533.5,423.1 534.0,424.2 534.1,425.1"/>
<polyline fill="none" stroke="#777" stroke-width="1.3"  points="412.5,390.9 413.0,392.7 413.5,392.7 414.0,394.1 414.5,391.7 415.0,394.2 415.5,391.6 416.0,393.9 416.5,393.1 417.0,393.1 417.5,392.2 418.0,391.0 418.5,392.4 419.0,392.4 419.5,393.0 420.0,390.9 420.5,392.6 421.0,394.2 421.5,394.2 422.0,392.5 422.5,392.9 423.0,394.3 423.5,394.8 424.0,391.8 424.5,393.1 425.0,393.2 425.5,393.1 426.0,392.0 426.5,394.2 427.0,393.5 427.5,393.5 428.0,391.9 428.5,394.6 429.0,393.1 429.5,394.2 430.0,393.5 430.5,391.9 431.0,395.4 431.5,394.2 432.0,392.7 432.5,394.1 433.0,393.1 433.5,396.1 434.0,394.4 434.5,393.4 435.0,396.1 435.5,395.5 436.0,393.9 436.5,395.5 437.0,393.9 437.5,396.3 438.0,395.1 438.5,396.7 439.0,393.9 439.5,394.8 440.0,395.6 440.5,397.4 441.0,394.3 441.5,398.0 442.0,394.2 442.5,395.0 443.0,396.4 443.5,396.6 444.0,396.5 444.5,395.2 445.0,397.6 445.5,398.0 446.0,397.8 446.5,398.9 447.0,396.9 447.5,397.0 448.0,396.7 448.5,399.0 449.0,396.4 449.5,399.8 450.0,400.0 450.5,398.4 451.0,398.2 451.5,398.3 452.0,400.0 452.5,400.7 453.0,397.8 453.5,400.3 454.0,400.6 454.5,399.0 455.0,399.2 455.5,397.7 456.0,398.9 456.5,400.1 457.0,400.3 457.5,401.1 458.0,401.6 458.5,399.9 459.0,399.8 459.5,399.6 460.0,400.7 460.5,399.7 461.0,401.8 461.5,399.7 462.0,402.1 462.5,400.0 463.0,403.0 463.5,403.4 464.0,402.6 464.5,404.2 465.0,401.9 465.5,402.5 466.0,401.7 466.5,403.3 467.0,403.0 467.5,405.3 468.0,403.9 468.5,401.8 469.0,402.7 469.5,404.8 470.0,405.7 470.5,404.9 471.0,406.5 471.5,406.2 472.0,406.0 472.5,405.9 473.0,404.8 473.5,403.6 474.0,405.9 474.5,406.6 475.0,407.5 475.5,406.6 476.0,406.1 476.5,404.9 477.0,406.5 477.5,408.8 478.0,407.4 478.5,408.3 479.0,409.2 479.5,406.6 480.0,406.9 480.5,408.9 481.0,406.1 481.5,407.4 482.0,409.4 482.5,409.6 483.0,407.1 483.5,406.5 484.0,410.5 484.5,408.7 485.0,408.8 485.5,409.6 486.0,410.1 486.5,408.5 487.0,409.4 487.5,410.5 488.0,408.9 488.5,409.8 489.0,409.0 489.5,411.5 490.0,408.1 490.5,410.9 491.0,410.1 491.5,410.7 492.0,409.1 492.5,412.2 493.0,410.4 493.5,411.4 494.0,409.1 494.5,410.1 495.0,412.7 495.5,409.3 496.0,410.9 496.5,410.4 497.0,411.1 497.5,412.5 498.0,413.6 498.5,412.5 499.0,414.1 499.5,413.5 500.0,414.6 500.5,411.7 501.0,414.7 501.5,414.4 502.0,415.3 502.5,411.9 503.0,412.3 503.5,412.1 504.0,412.3 504.5,413.4 505.0,414.9 505.5,414.4 506.0,413.5 506.5,416.2 507.0,413.9 507.5,417.4 508.0,414.9 508.5,414.0 509.0,414.7 509.5,414.3 510.0,415.2 510.5,417.2 511.0,416.1 511.5,414.9 512.0,416.4 512.5,416.6 513.0,416.5 513.5,418.5 514.0,416.3 514.5,418.1 515.0,416.2 515.5,418.1 516.0,419.5 516.5,417.9 517.0,417.1 517.5,419.1 518.0,421.0 518.5,420.1 519.0,419.3 519.5,420.0 520.0,419.2 520.5,419.5 521.0,421.4 521.5,421.8 522.0,420.6 522.5,421.6 523.0,422.1 523.5,421.4 524.0,422.8 524.5,421.7 525.0,421.6 525.5,422.6 526.0,422.3 526.5,423.6 527.0,423.3 527.5,422.5 528.0,423.3 528.5,424.2 529.0,422.6 529.5,422.4 530.0,424.5 530.5,421.7 531.0,423.6 531.5,421.9 532.0,424.7 532.5,425.7 533.0,426.1 533.5,423.9 534.0,426.0 534.1,425.2"/>
<polyline fill="none" stroke="#444" stroke-width="1.3"  points="412.5,391.2 413.0,390.6 413.5,392.7 414.0,391.8 414.5,393.9 415.0,394.1 415.5,392.7 416.0,392.9 416.5,391.0 417.0,391.8 417.5,393.8 418.0,392.5 418.5,391.8 419.0,392.7 419.5,392.6 420.0,392.5 420.5,392.5 421.0,392.9 421.5,394.5 422.0,394.2 422.5,392.9 423.0,391.0 423.5,394.3 424.0,393.4 424.5,391.3 425.0,394.4 425.5,393.0 426.0,391.9 426.5,394.3 427.0,392.3 427.5,394.6 428.0,393.8 428.5,392.8 429.0,392.8 429.5,392.7 430.0,392.4 430.5,392.8 431.0,393.4 431.5,393.2 432.0,393.8 432.5,393.6 433.0,395.7 433.5,394.6 434.0,393.2 434.5,394.9 435.0,393.8 435.5,395.8 436.0,394.7 436.5,396.8 437.0,393.5 437.5,393.9 438.0,396.2 438.5,394.4 439.0,393.7 439.5,395.8 440.0,397.4 440.5,395.7 441.0,396.0 441.5,394.0 442.0,397.3 442.5,398.2 443.0,394.5 443.5,395.2 444.0,395.3 444.5,398.0 445.0,398.7 445.5,398.7 446.0,395.9 446.5,396.6 447.0,398.1 447.5,396.5 448.0,399.3 448.5,397.3 449.0,396.9 449.5,396.8 450.0,400.0 450.5,396.9 451.0,400.4 451.5,397.0 452.0,400.0 452.5,398.1 453.0,400.7 453.5,400.9 454.0,401.0 454.5,398.5 455.0,397.8 455.5,401.6 456.0,400.2 456.5,398.8 457.0,400.0 457.5,401.9 458.0,398.7 458.5,400.9 459.0,398.7 459.5,400.3 460.0,401.6 460.5,400.7 461.0,402.2 461.5,401.0 462.0,401.7 462.5,401.2 463.0,401.8 463.5,401.7 464.0,401.1 464.5,400.9 465.0,403.3 465.5,401.5 466.0,401.0 466.5,404.9 467.0,401.9 467.5,401.8 468.0,403.9 468.5,403.4 469.0,404.8 469.5,404.4 470.0,404.6 470.5,405.1 471.0,403.3 471.5,405.9 472.0,404.6 472.5,406.0 473.0,405.5 473.5,403.9 474.0,404.6 474.5,405.5 475.0,404.0 475.5,406.4 476.0,404.7 476.5,406.6 477.0,408.7 477.5,408.6 478.0,407.7 478.5,405.5 479.0,407.1 479.5,406.9 480.0,406.6 480.5,409.3 481.0,407.4 481.5,407.2 482.0,409.3 482.5,407.0 483.0,409.2 483.5,407.7 484.0,409.0 484.5,408.4 485.0,410.4 485.5,407.8 486.0,410.6 486.5,407.5 487.0,407.4 487.5,411.3 488.0,409.0 488.5,409.7 489.0,408.2 489.5,411.5 490.0,409.8 490.5,411.1 491.0,410.6 491.5,409.0 492.0,410.8 492.5,409.4 493.0,411.1 493.5,410.7 494.0,409.0 494.5,410.2 495.0,409.7 495.5,410.5 496.0,412.6 496.5,409.6 497.0,410.7 497.5,413.4 498.0,410.7 498.5,411.5 499.0,411.9 499.5,413.4 500.0,414.7 500.5,413.0 501.0,413.5 501.5,415.2 502.0,414.4 502.5,413.1 503.0,415.1 503.5,413.4 504.0,412.8 504.5,413.5 505.0,414.1 505.5,414.8 506.0,414.1 506.5,416.2 507.0,414.9 507.5,417.2 508.0,417.4 508.5,417.1 509.0,418.0 509.5,415.1 510.0,414.9 510.5,416.0 511.0,417.1 511.5,415.8 512.0,418.0 512.5,417.6 513.0,416.0 513.5,416.1 514.0,417.8 514.5,419.4 515.0,416.4 515.5,419.3 516.0,418.6 516.5,420.4 517.0,419.8 517.5,417.3 518.0,421.1 518.5,419.5 519.0,421.1 519.5,419.3 520.0,418.0 520.5,421.7 521.0,419.1 521.5,419.4 522.0,422.1 522.5,422.5 523.0,421.9 523.5,422.4 524.0,421.8 524.5,421.4 525.0,420.4 525.5,420.7 526.0,423.4 526.5,422.9 527.0,421.8 527.5,420.9 528.0,421.1 528.5,421.8 529.0,421.3 529.5,422.3 530.0,421.4 530.5,425.2 531.0,425.3 531.5,423.3 532.0,423.5 532.5,423.2 533.0,422.7 533.5,425.6 534.0,423.5 534.1,426.4"/>
<polyline fill="none" stroke="#000" stroke-width="1.7"  points="412.5,392.2 413.0,391.8 413.5,392.4 414.0,393.3 414.5,392.7 415.0,391.5 415.5,393.8 416.0,392.7 416.5,391.3 417.0,393.3 417.5,390.9 418.0,392.0 418.5,392.3 419.0,390.9 419.5,392.0 420.0,394.0 420.5,393.0 421.0,391.8 421.5,391.3 422.0,393.5 422.5,392.4 423.0,391.6 423.5,394.3 424.0,391.7 424.5,394.0 425.0,393.4 425.5,391.3 426.0,392.4 426.5,394.1 427.0,393.6 427.5,392.0 428.0,392.4 428.5,393.4 429.0,392.1 429.5,393.0 430.0,394.2 430.5,392.3 431.0,394.8 431.5,394.2 432.0,395.2 432.5,395.0 433.0,394.3 433.5,392.9 434.0,393.6 434.5,393.7 435.0,395.2 435.5,395.0 436.0,393.9 436.5,393.5 437.0,395.9 437.5,396.5 438.0,396.5 438.5,396.2 439.0,394.5 439.5,394.3 440.0,396.5 440.5,396.1 441.0,395.1 441.5,396.1 442.0,397.6 442.5,394.9 443.0,396.7 443.5,397.9 444.0,396.0 444.5,398.3 445.0,395.9 445.5,396.1 446.0,395.5 446.5,396.4 447.0,397.3 447.5,397.4 448.0,399.0 448.5,397.0 449.0,396.6 449.5,397.9 450.0,398.2 450.5,396.7 451.0,399.1 451.5,400.0 452.0,398.2 452.5,399.1 453.0,400.4 453.5,400.1 454.0,399.5 454.5,398.1 455.0,398.6 455.5,399.3 456.0,400.2 456.5,399.0 457.0,398.7 457.5,401.8 458.0,401.4 458.5,401.1 459.0,401.4 459.5,402.0 460.0,402.2 460.5,399.9 461.0,400.3 461.5,402.9 462.0,401.2 462.5,400.4 463.0,402.4 463.5,401.9 464.0,401.4 464.5,401.8 465.0,403.2 465.5,402.0 466.0,404.2 466.5,401.9 467.0,404.2 467.5,402.5 468.0,405.2 468.5,402.1 469.0,402.9 469.5,402.5 470.0,405.4 470.5,403.9 471.0,404.4 471.5,404.0 472.0,404.4 472.5,406.6 473.0,406.0 473.5,405.1 474.0,404.1 474.5,404.5 475.0,405.6 475.5,405.5 476.0,406.9 476.5,406.9 477.0,405.6 477.5,406.9 478.0,408.1 478.5,405.7 479.0,406.9 479.5,406.8 480.0,408.9 480.5,407.8 481.0,408.8 481.5,408.9 482.0,409.4 482.5,407.5 483.0,409.3 483.5,409.4 484.0,407.0 484.5,408.6 485.0,409.4 485.5,409.3 486.0,410.4 486.5,408.3 487.0,409.8 487.5,409.8 488.0,409.5 488.5,410.3 489.0,409.1 489.5,410.3 490.0,409.8 490.5,409.5 491.0,409.1 491.5,410.4 492.0,411.6 492.5,409.3 493.0,411.8 493.5,409.2 494.0,412.4 494.5,410.8 495.0,410.8 495.5,412.5 496.0,410.1 496.5,410.1 497.0,412.9 497.5,411.0 498.0,411.7 498.5,413.5 499.0,412.9 499.5,413.5 500.0,414.5 500.5,412.1 501.0,413.1 501.5,411.7 502.0,414.9 502.5,415.1 503.0,414.7 503.5,413.1 504.0,414.9 504.5,414.4 505.0,414.5 505.5,414.5 506.0,413.3 506.5,414.0 507.0,413.7 507.5,416.2 508.0,417.0 508.5,414.6 509.0,417.1 509.5,415.1 510.0,415.0 510.5,415.9 511.0,417.7 511.5,415.4 512.0,415.9 512.5,418.3 513.0,416.0 513.5,418.8 514.0,419.0 514.5,418.2 515.0,417.4 515.5,418.6 516.0,419.1 516.5,417.4 517.0,417.3 517.5,418.6 518.0,419.3 518.5,420.8 519.0,420.6 519.5,420.2 520.0,421.0 520.5,419.5 521.0,421.5 521.5,421.2 522.0,419.9 522.5,421.0 523.0,420.4 523.5,420.4 524.0,422.7 524.5,422.2 525.0,421.7 525.5,423.1 526.0,423.3 526.5,420.7 527.0,420.8 527.5,423.9 528.0,421.4 528.5,422.1 529.0,423.0 529.5,422.2 530.0,424.8 530.5,423.3 531.0,423.9 531.5,425.0 532.0,423.6 532.5,425.1 533.0,425.9 533.5,425.3 534.0,424.8 534.1,425.5"/>
<polyline fill="none" stroke="#000" stroke-width="1.2"  points="412.5,390.8 413.0,393.7 413.5,392.8 414.0,391.0 414.5,392.2 415.0,392.7 415.5,391.6 416.0,391.3 416.5,393.0 417.0,394.0 417.5,392.5 418.0,393.2 418.5,391.8 419.0,393.7 419.5,394.2 420.0,393.1 420.5,392.5 421.0,391.5 421.5,394.0 422.0,392.2 422.5,393.9 423.0,391.3 423.5,392.5 424.0,393.8 424.5,391.7 425.0,391.5 425.5,392.3 426.0,393.7 426.5,392.8 427.0,393.5 427.5,393.9 428.0,392.0 428.5,392.4 429.0,393.2 429.5,392.7 430.0,394.4 430.5,393.2 431.0,394.4 431.5,394.7 432.0,395.0 432.5,395.3 433.0,394.9 433.5,394.0 434.0,393.0 434.5,394.0 435.0,395.4 435.5,396.4 436.0,393.5 436.5,394.1 437.0,393.9 437.5,394.1 438.0,394.4 438.5,395.4 439.0,395.2 439.5,397.1 440.0,394.2 440.5,396.9 441.0,396.2 441.5,395.2 442.0,397.1 442.5,397.7 443.0,394.7 443.5,397.9 444.0,395.1 444.5,395.5 445.0,396.4 445.5,395.8 446.0,396.3 446.5,397.6 447.0,398.5 447.5,396.6 448.0,398.8 448.5,399.2 449.0,397.3 449.5,398.7 450.0,397.1 450.5,397.6 451.0,399.4 451.5,397.2 452.0,399.6 452.5,400.4 453.0,399.8 453.5,400.1 454.0,397.8 454.5,398.1 455.0,399.5 455.5,399.9 456.0,400.6 456.5,399.2 457.0,398.6 457.5,400.0 458.0,401.6 458.5,400.3 459.0,399.3 459.5,401.2 460.0,401.3 460.5,401.0 461.0,402.6 461.5,402.7 462.0,400.0 462.5,402.7 463.0,402.2 463.5,402.7 464.0,401.4 464.5,403.4 465.0,404.1 465.5,403.1 466.0,401.6 466.5,403.6 467.0,404.5 467.5,404.5 468.0,403.7 468.5,402.8 469.0,402.8 469.5,404.4 470.0,403.0 470.5,404.3 471.0,406.0 471.5,405.0 472.0,404.3 472.5,404.2 473.0,406.1 473.5,404.2 474.0,404.5 474.5,406.2 475.0,404.5 475.5,405.0 476.0,407.7 476.5,407.0 477.0,405.5 477.5,407.9 478.0,408.4 478.5,406.1 479.0,407.5 479.5,407.6 480.0,407.6 480.5,408.4 481.0,408.5 481.5,407.0 482.0,407.9 482.5,408.7 483.0,409.2 483.5,408.9 484.0,408.9 484.5,409.0 485.0,410.3 485.5,409.2 486.0,407.7 486.5,409.9 487.0,408.6 487.5,410.6 488.0,408.1 488.5,410.4 489.0,409.5 489.5,410.9 490.0,409.0 490.5,410.8 491.0,409.3 491.5,410.9 492.0,409.8 492.5,409.7 493.0,410.7 493.5,410.8 494.0,409.7 494.5,411.5 495.0,411.1 495.5,411.0 496.0,410.2 496.5,413.2 497.0,412.7 497.5,410.8 498.0,413.5 498.5,413.9 499.0,412.5 499.5,412.6 500.0,413.6 500.5,413.4 501.0,412.8 501.5,412.5 502.0,413.8 502.5,415.3 503.0,415.2 503.5,413.5 504.0,413.0 504.5,415.8 505.0,414.8 505.5,413.4 506.0,414.3 506.5,416.2 507.0,413.9 507.5,415.3 508.0,414.4 508.5,417.1 509.0,414.7 509.5,417.7 510.0,416.6 510.5,416.3 511.0,416.3 511.5,417.6 512.0,417.2 512.5,416.9 513.0,417.5 513.5,417.7 514.0,417.1 514.5,419.2 515.0,419.0 515.5,418.0 516.0,418.8 516.5,418.7 517.0,419.9 517.5,418.4 518.0,418.9 518.5,419.8 519.0,419.0 519.5,421.0 520.0,419.9 520.5,419.6 521.0,421.5 521.5,420.8 522.0,421.7 522.5,419.3 523.0,420.0 523.5,421.5 524.0,419.9 524.5,422.5 525.0,421.3 525.5,423.2 526.0,422.4 526.5,420.8 527.0,421.8 527.5,422.6 528.0,421.9 528.5,421.6 529.0,424.1 529.5,423.0 530.0,423.6 530.5,423.5 531.0,423.2 531.5,424.6 532.0,423.0 532.5,425.3 533.0,424.8 533.5,423.0 534.0,425.2 534.1,424.3"/>
<line x1="290.3" y1="400" x2="290.3" y2="467.5" stroke="#000" stroke-width="1.8" stroke-dasharray="1.8 2.4"/>
<line x1="412.5" y1="394" x2="412.5" y2="467.5" stroke="#000" stroke-width="1.8" stroke-dasharray="1.8 2.4"/>
</g>
<rect x="47.4" y="385.4" width="486.2" height="86.9" class="sp"/>
<line x1="47.4" y1="472.3" x2="47.4" y2="474.3" class="tk"/>
<text x="47.4" y="485.3" class="tl" text-anchor="middle">0</text>
<line x1="108.2" y1="472.3" x2="108.2" y2="474.3" class="tk"/>
<text x="108.2" y="485.3" class="tl" text-anchor="middle">5</text>
<line x1="168.9" y1="472.3" x2="168.9" y2="474.3" class="tk"/>
<text x="168.9" y="485.3" class="tl" text-anchor="middle">10</text>
<line x1="229.7" y1="472.3" x2="229.7" y2="474.3" class="tk"/>
<text x="229.7" y="485.3" class="tl" text-anchor="middle">15</text>
<line x1="290.5" y1="472.3" x2="290.5" y2="474.3" class="tk"/>
<text x="290.5" y="485.3" class="tl" text-anchor="middle">20</text>
<line x1="351.3" y1="472.3" x2="351.3" y2="474.3" class="tk"/>
<text x="351.3" y="485.3" class="tl" text-anchor="middle">25</text>
<line x1="412.1" y1="472.3" x2="412.1" y2="474.3" class="tk"/>
<text x="412.1" y="485.3" class="tl" text-anchor="middle">30</text>
<line x1="472.8" y1="472.3" x2="472.8" y2="474.3" class="tk"/>
<text x="472.8" y="485.3" class="tl" text-anchor="middle">35</text>
<line x1="533.6" y1="472.3" x2="533.6" y2="474.3" class="tk"/>
<text x="533.6" y="485.3" class="tl" text-anchor="middle">40</text>
<line x1="45.4" y1="417.8" x2="47.4" y2="417.8" class="tk"/>
<text x="43.1" y="422.2" class="tl" text-anchor="end">2</text>
<line x1="45.4" y1="467.9" x2="47.4" y2="467.9" class="tk"/>
<text x="43.1" y="472.3" class="tl" text-anchor="end">0</text>
<text x="291.3" y="502.8" class="xl" text-anchor="middle">Time [s]</text>
<text transform="translate(27.0,447.2) rotate(-90) scale(0.88,1)" class="yl vv">V</text><text transform="translate(30.6,439.0) rotate(-90)" class="yl vr">R</text><text transform="translate(27.5,431.6) rotate(-90)" class="yl">[V]</text>
<text x="271.6" y="538.9" class="cap" text-anchor="middle">(c)</text>
</g>
</svg>
</body></html>
